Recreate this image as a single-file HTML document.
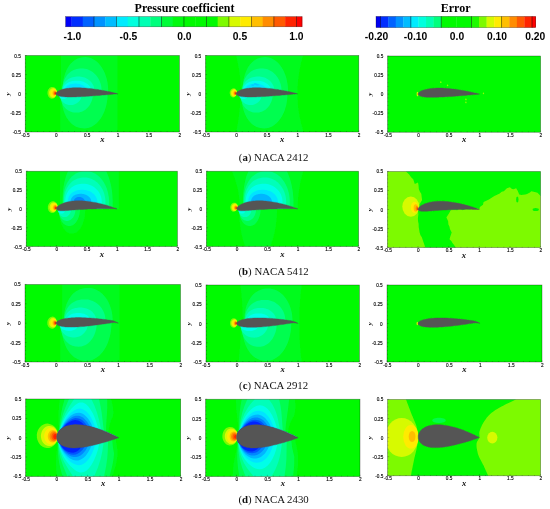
<!DOCTYPE html>
<html><head><meta charset="utf-8"><title>Pressure coefficient and error</title>
<style>html,body{margin:0;padding:0;background:#fff}svg{display:block}</style></head>
<body>
<svg width="550" height="509" viewBox="0 0 550 509">
<rect width="550" height="509" fill="#fff"/>
<rect x="65.60" y="16.6" width="6.20" height="10.2" fill="#0000f8"/>
<rect x="71.50" y="16.6" width="11.55" height="10.2" fill="#002eff"/>
<rect x="82.75" y="16.6" width="11.54" height="10.2" fill="#0062ff"/>
<rect x="93.99" y="16.6" width="11.55" height="10.2" fill="#0092ff"/>
<rect x="105.23" y="16.6" width="11.54" height="10.2" fill="#00bcff"/>
<rect x="116.48" y="16.6" width="11.55" height="10.2" fill="#00ebff"/>
<rect x="127.72" y="16.6" width="11.55" height="10.2" fill="#00ffde"/>
<rect x="138.97" y="16.6" width="11.54" height="10.2" fill="#00ffb4"/>
<rect x="150.21" y="16.6" width="11.55" height="10.2" fill="#00ff7d"/>
<rect x="161.46" y="16.6" width="11.55" height="10.2" fill="#00fc38"/>
<rect x="172.70" y="16.6" width="11.55" height="10.2" fill="#00fa0e"/>
<rect x="183.95" y="16.6" width="11.55" height="10.2" fill="#00fa00"/>
<rect x="195.19" y="16.6" width="11.55" height="10.2" fill="#00fa00"/>
<rect x="206.44" y="16.6" width="11.55" height="10.2" fill="#00fa00"/>
<rect x="217.69" y="16.6" width="11.54" height="10.2" fill="#7dfa00"/>
<rect x="228.93" y="16.6" width="11.55" height="10.2" fill="#d7fa00"/>
<rect x="240.17" y="16.6" width="11.55" height="10.2" fill="#ffeb00"/>
<rect x="251.42" y="16.6" width="11.54" height="10.2" fill="#ffbe00"/>
<rect x="262.66" y="16.6" width="11.55" height="10.2" fill="#ff8c00"/>
<rect x="273.91" y="16.6" width="11.55" height="10.2" fill="#ff5a00"/>
<rect x="285.15" y="16.6" width="11.55" height="10.2" fill="#ff2300"/>
<rect x="296.40" y="16.6" width="5.90" height="10.2" fill="#ff0000"/>
<rect x="93.69" y="16.6" width="0.6" height="10.2" fill="#000" fill-opacity="0.75"/>
<rect x="116.18" y="16.6" width="0.6" height="10.2" fill="#000" fill-opacity="0.75"/>
<rect x="138.67" y="16.6" width="0.6" height="10.2" fill="#000" fill-opacity="0.75"/>
<rect x="161.16" y="16.6" width="0.6" height="10.2" fill="#000" fill-opacity="0.75"/>
<rect x="183.65" y="16.6" width="0.6" height="10.2" fill="#000" fill-opacity="0.75"/>
<rect x="206.14" y="16.6" width="0.6" height="10.2" fill="#000" fill-opacity="0.75"/>
<rect x="228.63" y="16.6" width="0.6" height="10.2" fill="#000" fill-opacity="0.75"/>
<rect x="251.12" y="16.6" width="0.6" height="10.2" fill="#000" fill-opacity="0.75"/>
<rect x="273.61" y="16.6" width="0.6" height="10.2" fill="#000" fill-opacity="0.75"/>
<rect x="296.10" y="16.6" width="0.6" height="10.2" fill="#000" fill-opacity="0.75"/>
<rect x="65.6" y="16.6" width="236.4" height="10.2" fill="none" stroke="#000" stroke-opacity="0.55" stroke-width="0.5"/>
<rect x="376.00" y="16.4" width="4.90" height="11.200000000000003" fill="#0000f0"/>
<rect x="380.60" y="16.4" width="7.87" height="11.200000000000003" fill="#002eff"/>
<rect x="388.17" y="16.4" width="7.87" height="11.200000000000003" fill="#0062ff"/>
<rect x="395.74" y="16.4" width="7.87" height="11.200000000000003" fill="#0092ff"/>
<rect x="403.31" y="16.4" width="7.87" height="11.200000000000003" fill="#00bcff"/>
<rect x="410.88" y="16.4" width="7.87" height="11.200000000000003" fill="#00ebff"/>
<rect x="418.45" y="16.4" width="7.87" height="11.200000000000003" fill="#00ffde"/>
<rect x="426.02" y="16.4" width="7.87" height="11.200000000000003" fill="#00ffb4"/>
<rect x="433.59" y="16.4" width="7.87" height="11.200000000000003" fill="#00ff7d"/>
<rect x="441.16" y="16.4" width="7.87" height="11.200000000000003" fill="#00fa00"/>
<rect x="448.73" y="16.4" width="7.87" height="11.200000000000003" fill="#00fa00"/>
<rect x="456.30" y="16.4" width="7.87" height="11.200000000000003" fill="#00fa00"/>
<rect x="463.87" y="16.4" width="7.87" height="11.200000000000003" fill="#00fa00"/>
<rect x="471.44" y="16.4" width="7.87" height="11.200000000000003" fill="#1efa00"/>
<rect x="479.01" y="16.4" width="7.87" height="11.200000000000003" fill="#7dfa00"/>
<rect x="486.58" y="16.4" width="7.87" height="11.200000000000003" fill="#d7fa00"/>
<rect x="494.15" y="16.4" width="7.87" height="11.200000000000003" fill="#ffeb00"/>
<rect x="501.72" y="16.4" width="7.87" height="11.200000000000003" fill="#ffbe00"/>
<rect x="509.29" y="16.4" width="7.87" height="11.200000000000003" fill="#ff8c00"/>
<rect x="516.86" y="16.4" width="7.87" height="11.200000000000003" fill="#ff5a00"/>
<rect x="524.43" y="16.4" width="7.87" height="11.200000000000003" fill="#ff2300"/>
<rect x="532.00" y="16.4" width="3.90" height="11.200000000000003" fill="#ff0000"/>
<rect x="380.30" y="16.4" width="0.6" height="11.200000000000003" fill="#000" fill-opacity="0.75"/>
<rect x="410.58" y="16.4" width="0.6" height="11.200000000000003" fill="#000" fill-opacity="0.75"/>
<rect x="440.86" y="16.4" width="0.6" height="11.200000000000003" fill="#000" fill-opacity="0.75"/>
<rect x="471.14" y="16.4" width="0.6" height="11.200000000000003" fill="#000" fill-opacity="0.75"/>
<rect x="501.42" y="16.4" width="0.6" height="11.200000000000003" fill="#000" fill-opacity="0.75"/>
<rect x="531.70" y="16.4" width="0.6" height="11.200000000000003" fill="#000" fill-opacity="0.75"/>
<rect x="376.0" y="16.4" width="159.60000000000002" height="11.200000000000003" fill="none" stroke="#000" stroke-opacity="0.55" stroke-width="0.5"/>
<g font-family="'Liberation Serif',serif" font-weight="bold" font-size="12px" text-anchor="middle" fill="#000">
<text x="184.5" y="11.6">Pressure coefficient</text>
<text x="455.6" y="11.7">Error</text>
</g>
<g font-family="'Liberation Sans',sans-serif" font-weight="bold" font-size="10.3px" text-anchor="middle" fill="#000">
<text x="72.4" y="40.2">-1.0</text>
<text x="128.4" y="40.2">-0.5</text>
<text x="184.4" y="40.2">0.0</text>
<text x="240" y="40.2">0.5</text>
<text x="296.4" y="40.2">1.0</text>
<text x="376.6" y="40.2">-0.20</text>
<text x="415.6" y="40.2">-0.10</text>
<text x="457" y="40.2">0.0</text>
<text x="497" y="40.2">0.10</text>
<text x="535.2" y="40.2">0.20</text>
</g>
<defs><filter id="bl" x="-5%" y="-5%" width="110%" height="110%"><feGaussianBlur stdDeviation="0.45"/></filter><clipPath id="c00"><rect x="25.2" y="55.5" width="154.2" height="76.5"/></clipPath><clipPath id="c01"><rect x="205.5" y="55.5" width="153.3" height="76.5"/></clipPath><clipPath id="c02"><rect x="387.6" y="56.0" width="153.0" height="76.2"/></clipPath><clipPath id="c10"><rect x="26.2" y="171.2" width="151.2" height="75.4"/></clipPath><clipPath id="c11"><rect x="206.4" y="171.2" width="152.2" height="75.4"/></clipPath><clipPath id="c12"><rect x="387.4" y="171.4" width="153.2" height="76.2"/></clipPath><clipPath id="c20"><rect x="25.0" y="284.4" width="155.5" height="77.6"/></clipPath><clipPath id="c21"><rect x="206.0" y="285.0" width="153.4" height="77.0"/></clipPath><clipPath id="c22"><rect x="387.0" y="285.0" width="155.0" height="77.0"/></clipPath><clipPath id="c30"><rect x="25.6" y="399.0" width="155.1" height="77.4"/></clipPath><clipPath id="c31"><rect x="205.6" y="399.2" width="154.4" height="77.2"/></clipPath><clipPath id="c32"><rect x="387.6" y="399.4" width="153.0" height="76.4"/></clipPath></defs>
<g clip-path="url(#c00)" filter="url(#bl)">
<rect x="21.2" y="51.5" width="162.2" height="84.5" fill="#00fa00"/>
<path d="M60.8,93.8H117.4V47.9H60.8Z" fill="#00fb1a"/>
<path d="M62.5,93.8L62.5,91.1L62.6,87.7L62.8,84.8L63.1,82.0L63.5,79.4L64.1,76.9L64.8,74.5L65.6,72.2L66.5,70.1L67.6,68.1L68.7,66.3L69.9,64.6L71.3,63.1L72.7,61.7L74.2,60.5L75.8,59.5L77.5,58.6L79.3,58.0L81.1,57.5L83.1,57.2L85.4,57.1L87.2,57.2L88.9,57.5L90.7,58.0L92.4,58.8L94.1,59.7L95.7,60.8L97.3,62.1L98.8,63.6L100.2,65.2L101.5,67.1L102.7,69.0L103.9,71.1L104.9,73.3L105.7,75.7L106.5,78.1L107.1,80.6L107.6,83.1L107.9,85.8L108.2,88.4L108.2,91.1L108.2,93.8Z" fill="#00fe50"/>
<path d="M62.2,93.8L62.2,91.1L62.3,88.8L62.4,86.9L62.7,85.1L63.1,83.3L63.6,81.6L64.2,80.1L64.9,78.6L65.7,77.2L66.6,75.8L67.5,74.6L68.6,73.5L69.8,72.5L71.0,71.5L72.3,70.8L73.7,70.1L75.2,69.5L76.7,69.1L78.3,68.8L80.0,68.6L81.9,68.5L83.5,68.6L85.0,68.8L86.6,69.1L88.0,69.6L89.5,70.2L90.9,71.0L92.3,71.8L93.5,72.8L94.8,73.9L95.9,75.1L97.0,76.4L97.9,77.8L98.8,79.3L99.5,80.8L100.2,82.4L100.7,84.1L101.1,85.8L101.4,87.5L101.6,89.3L101.7,91.1L101.7,93.8Z" fill="#00ff87"/>
<path d="M62.2,93.8L62.2,91.1L62.3,89.6L62.4,88.4L62.6,87.2L62.9,86.1L63.3,85.0L63.8,84.0L64.4,83.0L65.0,82.1L65.8,81.3L66.6,80.5L67.5,79.7L68.4,79.1L69.4,78.5L70.5,78.0L71.6,77.5L72.8,77.2L74.1,76.9L75.4,76.7L76.8,76.6L78.4,76.5L79.7,76.6L80.9,76.7L82.2,76.9L83.4,77.2L84.6,77.6L85.7,78.1L86.9,78.7L87.9,79.3L88.9,80.0L89.8,80.8L90.7,81.6L91.5,82.5L92.2,83.5L92.8,84.5L93.4,85.5L93.8,86.6L94.1,87.7L94.4,88.8L94.5,89.9L94.6,91.1L94.6,93.8Z" fill="#00ffb9"/>
<path d="M62.8,93.8L62.8,91.1L62.9,90.0L63.0,89.1L63.2,88.3L63.5,87.5L63.8,86.7L64.2,86.0L64.7,85.3L65.3,84.7L66.0,84.0L66.7,83.5L67.4,83.0L68.3,82.5L69.1,82.1L70.1,81.7L71.1,81.4L72.1,81.1L73.2,80.9L74.4,80.8L75.6,80.7L77.0,80.7L78.1,80.7L79.2,80.8L80.3,81.0L81.4,81.2L82.4,81.5L83.5,81.8L84.4,82.2L85.3,82.7L86.2,83.2L87.0,83.7L87.8,84.3L88.5,85.0L89.1,85.6L89.7,86.3L90.1,87.1L90.5,87.9L90.8,88.6L91.0,89.4L91.2,90.3L91.2,91.1L91.2,93.8Z" fill="#00ffe8"/>
<path d="M64.7,93.8L64.7,91.1L64.7,90.3L64.8,89.7L65.0,89.1L65.2,88.5L65.4,87.9L65.8,87.4L66.2,86.9L66.6,86.4L67.1,86.0L67.7,85.6L68.3,85.2L68.9,84.9L69.6,84.6L70.4,84.3L71.1,84.1L72.0,83.9L72.8,83.8L73.7,83.7L74.7,83.6L75.8,83.6L76.6,83.6L77.5,83.7L78.4,83.8L79.2,83.9L80.0,84.1L80.8,84.4L81.6,84.7L82.3,85.0L83.0,85.4L83.6,85.8L84.2,86.2L84.8,86.7L85.2,87.2L85.7,87.7L86.0,88.2L86.3,88.8L86.6,89.3L86.7,89.9L86.8,90.5L86.9,91.1L86.9,93.8Z" fill="#00e4ff"/>
<path d="M60.2,139.7H117.4V93.8H60.2Z" fill="#00fb1a"/>
<path d="M61.3,93.8L61.3,93.8L61.3,97.2L61.5,100.2L61.9,103.0L62.3,105.7L62.9,108.2L63.6,110.7L64.4,113.0L65.3,115.1L66.4,117.2L67.6,119.0L68.8,120.8L70.2,122.3L71.6,123.7L73.2,125.0L74.8,126.0L76.5,126.9L78.3,127.5L80.2,128.0L82.2,128.3L84.5,128.4L86.3,128.3L88.1,128.0L89.9,127.4L91.6,126.7L93.3,125.8L95.0,124.6L96.6,123.3L98.1,121.8L99.5,120.1L100.9,118.3L102.1,116.3L103.2,114.1L104.2,111.9L105.1,109.5L105.9,107.0L106.5,104.5L107.0,101.8L107.4,99.2L107.6,96.5L107.7,93.8L107.7,93.8Z" fill="#00fe50"/>
<path d="M60.4,93.8L60.4,93.8L60.4,95.6L60.5,97.2L60.8,98.8L61.1,100.2L61.5,101.6L62.0,103.0L62.6,104.2L63.2,105.4L63.9,106.5L64.8,107.5L65.6,108.5L66.6,109.3L67.6,110.1L68.7,110.8L69.8,111.3L71.0,111.8L72.3,112.2L73.6,112.4L75.0,112.6L76.6,112.6L77.9,112.6L79.2,112.4L80.4,112.1L81.7,111.7L82.9,111.2L84.0,110.6L85.1,109.9L86.2,109.0L87.2,108.1L88.2,107.1L89.0,106.0L89.8,104.9L90.5,103.6L91.1,102.3L91.7,101.0L92.1,99.6L92.5,98.2L92.7,96.7L92.9,95.2L92.9,93.8L92.9,93.8Z" fill="#00ff87"/>
<path d="M59.7,93.8L59.7,93.8L59.8,94.9L59.9,95.8L60.0,96.7L60.2,97.6L60.5,98.4L60.8,99.2L61.2,100.0L61.7,100.7L62.2,101.3L62.7,102.0L63.4,102.5L64.0,103.0L64.7,103.5L65.4,103.9L66.2,104.2L67.0,104.5L67.9,104.7L68.8,104.9L69.8,105.0L70.9,105.0L71.7,105.0L72.6,104.9L73.5,104.7L74.3,104.4L75.1,104.1L75.9,103.8L76.7,103.3L77.4,102.8L78.1,102.3L78.7,101.7L79.3,101.1L79.9,100.4L80.4,99.6L80.8,98.9L81.2,98.1L81.5,97.2L81.7,96.4L81.9,95.5L82.0,94.6L82.0,93.8L82.0,93.8Z" fill="#00ffb9"/>
<path d="M58.5,93.8L58.5,93.8L58.5,94.3L58.6,94.7L58.6,95.2L58.7,95.6L58.8,96.0L59.0,96.3L59.2,96.7L59.4,97.0L59.6,97.3L59.8,97.6L60.1,97.9L60.4,98.1L60.7,98.3L61.0,98.5L61.4,98.7L61.7,98.8L62.1,98.9L62.5,99.0L63.0,99.0L63.4,99.0L63.8,99.0L64.2,99.0L64.6,98.9L65.0,98.8L65.3,98.6L65.7,98.5L66.0,98.3L66.3,98.0L66.6,97.8L66.9,97.5L67.2,97.2L67.4,96.9L67.6,96.5L67.8,96.1L68.0,95.8L68.1,95.4L68.2,95.0L68.3,94.6L68.4,94.2L68.4,93.8L68.4,93.8Z" fill="#00ffe8"/>
<path d="M51.4,98.7L53.3,98.5L54.2,98.1L55.1,97.2L56.0,95.5L56.2,93.0L56.8,91.8L56.7,90.2L55.7,88.5L54.5,87.4L53.0,86.9L51.1,87.1L49.5,88.0L48.3,89.5L47.5,91.8L47.5,94.1L48.4,96.4L49.8,98.0Z" fill="#7dfa00"/>
<path d="M52.3,97.7L53.3,97.7L54.2,97.4L55.4,96.4L56.0,95.2L56.1,93.0L56.7,91.8L56.4,90.3L55.7,89.2L54.8,88.4L53.6,88.0L52.0,88.2L50.5,89.2L49.5,90.7L49.1,92.2L49.2,94.1L49.8,95.7L50.8,96.9Z" fill="#d7fa00"/>
<path d="M53.3,96.9L54.5,96.7L55.1,96.3L55.7,95.6L56.0,94.9L56.1,93.0L56.7,92.2L56.3,90.7L55.7,89.8L54.8,89.2L53.9,88.9L52.6,89.2L51.6,89.9L50.8,91.1L50.4,92.6L50.6,94.1L51.1,95.4L52.1,96.4Z" fill="#ffeb00"/>
<path d="M54.2,95.6L55.1,95.5L55.7,95.0L56.0,94.5L56.1,93.0L56.5,92.2L56.0,91.2L55.4,90.7L54.8,90.5L53.9,90.6L53.3,91.0L52.7,91.8L52.5,92.6L52.5,93.8L52.8,94.5L53.4,95.3Z" fill="#ffbe00"/>
<path d="M54.8,95.1L55.4,95.0L56.0,94.3L56.1,93.0L56.4,92.6L56.0,91.7L55.1,91.2L54.5,91.3L53.9,91.8L53.4,93.0L53.4,93.8L53.8,94.5L54.2,94.9Z" fill="#ff8c00"/>
<path d="M55.1,94.7L55.7,94.5L56.0,94.2L56.2,92.6L56.0,92.2L55.4,91.8L54.5,92.2L54.1,93.0L54.3,94.1Z" fill="#ff5a00"/>
<path d="M55.4,94.3L56.0,94.0L56.1,92.6L55.7,92.3L55.1,92.5L54.8,93.0L54.8,93.8Z" fill="#ff2300"/>
<path d="M55.7,93.9L56.1,93.8L56.0,93.1L55.7,93.0L55.4,93.4Z" fill="#ff0000"/>
<polygon points="117.7,93.8 117.7,93.8 117.5,93.8 117.3,93.8 117.0,93.8 116.7,93.9 116.2,93.9 115.7,93.9 115.0,94.0 114.3,94.1 113.6,94.1 112.7,94.2 111.8,94.3 110.8,94.4 109.7,94.5 108.6,94.6 107.5,94.7 106.2,94.8 104.9,94.9 103.6,95.0 102.2,95.1 100.8,95.2 99.3,95.4 97.9,95.5 96.3,95.6 94.8,95.7 93.2,95.8 91.6,96.0 90.1,96.1 88.4,96.2 86.8,96.3 85.2,96.4 83.6,96.5 82.0,96.6 80.5,96.7 78.9,96.7 77.4,96.8 75.9,96.9 74.4,96.9 73.0,96.9 71.6,97.0 70.2,97.0 68.9,97.0 67.7,97.0 66.4,96.9 65.3,96.9 64.2,96.8 63.1,96.7 62.1,96.6 61.2,96.5 60.4,96.3 59.6,96.2 58.9,96.0 58.3,95.8 57.7,95.5 57.2,95.3 56.8,95.0 56.5,94.7 56.3,94.4 56.1,94.1 56.0,93.8 56.1,93.4 56.2,93.0 56.3,92.7 56.6,92.3 57.0,92.0 57.4,91.6 57.9,91.2 58.5,90.9 59.2,90.6 60.0,90.2 60.8,89.9 61.7,89.6 62.7,89.3 63.7,89.0 64.9,88.8 66.0,88.6 67.3,88.3 68.6,88.2 69.9,88.0 71.3,87.9 72.8,87.8 74.2,87.7 75.8,87.7 77.3,87.7 78.9,87.7 80.5,87.8 82.1,87.9 83.7,88.0 85.3,88.1 86.9,88.2 88.5,88.4 90.2,88.6 91.8,88.7 93.4,88.9 94.9,89.2 96.5,89.4 98.0,89.6 99.5,89.9 101.0,90.1 102.4,90.4 103.8,90.6 105.1,90.9 106.4,91.1 107.6,91.4 108.7,91.6 109.9,91.8 110.9,92.1 111.9,92.3 112.8,92.5 113.6,92.7 114.4,92.9 115.1,93.1 115.7,93.2 116.2,93.4 116.7,93.5 117.1,93.6 117.3,93.7 117.6,93.7 117.7,93.7 117.7,93.8" fill="#555" stroke="#555" stroke-width="0.4"/>
</g>
<rect x="25.2" y="55.5" width="154.2" height="76.5" fill="none" stroke="#000" stroke-opacity="0.5" stroke-width="0.6"/>
<path d="M25.2,132.0v-1.6M31.4,132.0v-0.8M37.5,132.0v-0.8M43.7,132.0v-0.8M49.9,132.0v-0.8M56.0,132.0v-1.6M62.2,132.0v-0.8M68.4,132.0v-0.8M74.5,132.0v-0.8M80.7,132.0v-0.8M86.9,132.0v-1.6M93.0,132.0v-0.8M99.2,132.0v-0.8M105.4,132.0v-0.8M111.6,132.0v-0.8M117.7,132.0v-1.6M123.9,132.0v-0.8M130.1,132.0v-0.8M136.2,132.0v-0.8M142.4,132.0v-0.8M148.6,132.0v-1.6M154.7,132.0v-0.8M160.9,132.0v-0.8M167.1,132.0v-0.8M173.2,132.0v-0.8M179.4,132.0v-1.6M25.2,55.5h1.6M25.2,59.3h0.8M25.2,63.1h0.8M25.2,67.0h0.8M25.2,70.8h0.8M25.2,74.6h1.6M25.2,78.5h0.8M25.2,82.3h0.8M25.2,86.1h0.8M25.2,89.9h0.8M25.2,93.8h1.6M25.2,97.6h0.8M25.2,101.4h0.8M25.2,105.2h0.8M25.2,109.1h0.8M25.2,112.9h1.6M25.2,116.7h0.8M25.2,120.5h0.8M25.2,124.4h0.8M25.2,128.2h0.8M25.2,132.0h1.6" stroke="#000" stroke-opacity="0.45" stroke-width="0.5" fill="none"/>
<g font-family="'Liberation Sans',sans-serif" font-size="4.7px" fill="#000" stroke="#000" stroke-width="0.12">
<text x="20.9" y="57.5" text-anchor="end">0.5</text>
<text x="20.9" y="76.6" text-anchor="end">0.25</text>
<text x="20.9" y="95.8" text-anchor="end">0</text>
<text x="20.9" y="114.9" text-anchor="end">-0.25</text>
<text x="20.9" y="134.0" text-anchor="end">-0.5</text>
<text x="25.5" y="136.6" text-anchor="middle">-0.5</text>
<text x="56.3" y="136.6" text-anchor="middle">0</text>
<text x="87.2" y="136.6" text-anchor="middle">0.5</text>
<text x="118.0" y="136.6" text-anchor="middle">1</text>
<text x="148.9" y="136.6" text-anchor="middle">1.5</text>
<text x="179.7" y="136.6" text-anchor="middle">2</text>
</g>
<g font-family="'Liberation Serif',serif" font-style="italic" font-weight="bold" font-size="6.5px" fill="#111" text-anchor="middle">
<text x="102.3" y="141.9" font-size="8.6px">x</text>
<text transform="translate(8.2,94.0) rotate(-90)" x="0" y="1.5" font-size="7px">y</text>
</g>
<g clip-path="url(#c01)" filter="url(#bl)">
<rect x="201.5" y="51.5" width="161.3" height="84.5" fill="#00fa00"/>
<path d="M240.9,93.8L240.8,89.6L240.7,85.4L240.4,81.2L240.0,77.1L239.5,72.9L238.9,68.7L238.1,64.5L237.3,60.4L236.3,56.2L235.3,52.0L234.1,47.9L305.4,47.9L304.0,52.0L302.8,56.2L301.7,60.4L300.7,64.5L299.8,68.7L299.1,72.9L298.5,77.1L298.1,81.2L297.7,85.4L297.5,89.6L297.5,93.8Z" fill="#00fb1a"/>
<path d="M242.6,93.8L242.6,91.1L242.7,87.7L242.9,84.8L243.2,82.0L243.6,79.4L244.2,76.9L244.9,74.5L245.7,72.2L246.6,70.1L247.6,68.1L248.7,66.3L250.0,64.6L251.3,63.1L252.7,61.7L254.2,60.5L255.8,59.5L257.5,58.6L259.3,58.0L261.1,57.5L263.1,57.2L265.3,57.1L267.1,57.2L268.9,57.5L270.6,58.0L272.3,58.8L274.0,59.7L275.6,60.8L277.2,62.1L278.7,63.6L280.1,65.2L281.4,67.1L282.6,69.0L283.7,71.1L284.7,73.3L285.6,75.7L286.3,78.1L286.9,80.6L287.4,83.1L287.8,85.8L288.0,88.4L288.0,91.1L288.0,93.8Z" fill="#00fe50"/>
<path d="M242.3,93.8L242.3,91.1L242.3,88.8L242.5,86.9L242.8,85.1L243.2,83.3L243.7,81.6L244.2,80.1L244.9,78.6L245.7,77.2L246.6,75.8L247.6,74.6L248.7,73.5L249.8,72.5L251.0,71.5L252.3,70.8L253.7,70.1L255.2,69.5L256.7,69.1L258.3,68.8L260.0,68.6L261.9,68.5L263.5,68.6L265.0,68.8L266.5,69.1L268.0,69.6L269.4,70.2L270.8,71.0L272.2,71.8L273.4,72.8L274.7,73.9L275.8,75.1L276.8,76.4L277.8,77.8L278.6,79.3L279.4,80.8L280.0,82.4L280.6,84.1L281.0,85.8L281.3,87.5L281.5,89.3L281.5,91.1L281.5,93.8Z" fill="#00ff87"/>
<path d="M242.3,93.8L242.3,91.1L242.3,89.6L242.5,88.4L242.7,87.2L243.0,86.1L243.4,85.0L243.9,84.0L244.5,83.0L245.1,82.1L245.8,81.3L246.6,80.5L247.5,79.7L248.5,79.1L249.5,78.5L250.5,78.0L251.7,77.5L252.9,77.2L254.1,76.9L255.4,76.7L256.8,76.6L258.4,76.5L259.7,76.6L260.9,76.7L262.1,76.9L263.4,77.2L264.5,77.6L265.7,78.1L266.8,78.7L267.8,79.3L268.8,80.0L269.8,80.8L270.6,81.6L271.4,82.5L272.1,83.5L272.7,84.5L273.3,85.5L273.7,86.6L274.0,87.7L274.3,88.8L274.4,89.9L274.5,91.1L274.5,93.8Z" fill="#00ffb9"/>
<path d="M242.9,93.8L242.9,91.1L242.9,90.0L243.1,89.1L243.3,88.3L243.5,87.5L243.9,86.7L244.3,86.0L244.8,85.3L245.4,84.7L246.0,84.0L246.7,83.5L247.5,83.0L248.3,82.5L249.2,82.1L250.1,81.7L251.1,81.4L252.2,81.1L253.3,80.9L254.4,80.8L255.6,80.7L257.0,80.7L258.1,80.7L259.2,80.8L260.3,81.0L261.4,81.2L262.4,81.5L263.4,81.8L264.4,82.2L265.3,82.7L266.2,83.2L267.0,83.7L267.7,84.3L268.4,85.0L269.0,85.6L269.6,86.3L270.0,87.1L270.4,87.9L270.7,88.6L270.9,89.4L271.1,90.3L271.1,91.1L271.1,93.8Z" fill="#00ffe8"/>
<path d="M244.7,93.8L244.7,91.1L244.8,90.3L244.9,89.7L245.0,89.1L245.2,88.5L245.5,87.9L245.8,87.4L246.2,86.9L246.7,86.4L247.2,86.0L247.7,85.6L248.3,85.2L249.0,84.9L249.7,84.6L250.4,84.3L251.2,84.1L252.0,83.9L252.8,83.8L253.7,83.7L254.7,83.6L255.8,83.6L256.6,83.6L257.5,83.7L258.4,83.8L259.2,83.9L260.0,84.1L260.8,84.4L261.5,84.7L262.3,85.0L263.0,85.4L263.6,85.8L264.2,86.2L264.7,86.7L265.2,87.2L265.6,87.7L266.0,88.2L266.3,88.8L266.5,89.3L266.7,89.9L266.8,90.5L266.8,91.1L266.8,93.8Z" fill="#00e4ff"/>
<path d="M240.3,93.8L240.3,97.9L240.1,102.1L239.9,106.3L239.5,110.4L239.1,114.6L238.5,118.8L237.9,123.0L237.2,127.1L236.3,131.3L235.4,135.5L234.3,139.7L306.3,139.7L304.8,135.5L303.4,131.3L302.2,127.1L301.1,123.0L300.1,118.8L299.3,114.6L298.6,110.4L298.1,106.3L297.8,102.1L297.6,97.9L297.5,93.8Z" fill="#00fb1a"/>
<path d="M241.4,93.8L241.4,93.8L241.4,97.2L241.6,100.2L242.0,103.0L242.4,105.7L243.0,108.2L243.7,110.7L244.5,113.0L245.4,115.1L246.5,117.2L247.6,119.0L248.9,120.8L250.2,122.3L251.6,123.7L253.2,125.0L254.8,126.0L256.5,126.9L258.3,127.5L260.2,128.0L262.1,128.3L264.4,128.4L266.2,128.3L268.0,128.0L269.8,127.4L271.6,126.7L273.3,125.8L274.9,124.6L276.5,123.3L278.0,121.8L279.4,120.1L280.7,118.3L282.0,116.3L283.1,114.1L284.1,111.9L285.0,109.5L285.7,107.0L286.4,104.5L286.8,101.8L287.2,99.2L287.4,96.5L287.5,93.8L287.5,93.8Z" fill="#00fe50"/>
<path d="M240.5,93.8L240.5,93.8L240.5,95.6L240.6,97.2L240.9,98.8L241.2,100.2L241.6,101.6L242.1,103.0L242.6,104.2L243.3,105.4L244.0,106.5L244.8,107.5L245.7,108.5L246.7,109.3L247.7,110.1L248.7,110.8L249.9,111.3L251.1,111.8L252.3,112.2L253.6,112.4L255.0,112.6L256.6,112.6L257.9,112.6L259.2,112.4L260.4,112.1L261.6,111.7L262.8,111.2L264.0,110.6L265.1,109.9L266.2,109.0L267.2,108.1L268.1,107.1L269.0,106.0L269.7,104.9L270.4,103.6L271.1,102.3L271.6,101.0L272.0,99.6L272.4,98.2L272.6,96.7L272.8,95.2L272.8,93.8L272.8,93.8Z" fill="#00ff87"/>
<path d="M239.8,93.8L239.8,93.8L239.9,94.9L240.0,95.8L240.1,96.7L240.3,97.6L240.6,98.4L240.9,99.2L241.3,100.0L241.8,100.7L242.3,101.3L242.8,102.0L243.4,102.5L244.1,103.0L244.8,103.5L245.5,103.9L246.3,104.2L247.1,104.5L248.0,104.7L248.9,104.9L249.8,105.0L250.9,105.0L251.8,105.0L252.6,104.9L253.5,104.7L254.3,104.4L255.1,104.1L255.9,103.8L256.7,103.3L257.4,102.8L258.1,102.3L258.7,101.7L259.3,101.1L259.9,100.4L260.3,99.6L260.8,98.9L261.1,98.1L261.4,97.2L261.7,96.4L261.8,95.5L261.9,94.6L262.0,93.8L262.0,93.8Z" fill="#00ffb9"/>
<path d="M238.6,93.8L238.6,93.8L238.6,94.3L238.7,94.7L238.7,95.2L238.8,95.6L239.0,96.0L239.1,96.3L239.3,96.7L239.5,97.0L239.7,97.3L239.9,97.6L240.2,97.9L240.5,98.1L240.8,98.3L241.1,98.5L241.5,98.7L241.8,98.8L242.2,98.9L242.6,99.0L243.0,99.0L243.5,99.0L243.9,99.0L244.3,99.0L244.7,98.9L245.0,98.8L245.4,98.6L245.7,98.5L246.1,98.3L246.4,98.0L246.7,97.8L247.0,97.5L247.2,97.2L247.5,96.9L247.7,96.5L247.9,96.1L248.1,95.8L248.2,95.4L248.3,95.0L248.4,94.6L248.4,94.2L248.4,93.8L248.4,93.8Z" fill="#00ffe8"/>
<ellipse cx="252.7" cy="85.1" rx="1.5" ry="0.9" fill="#00c8ff" fill-opacity="0.8"/>
<ellipse cx="257.3" cy="84.7" rx="1.5" ry="0.9" fill="#00c8ff" fill-opacity="0.8"/>
<ellipse cx="255.2" cy="84.0" rx="1.5" ry="0.9" fill="#00c8ff" fill-opacity="0.8"/>
<path d="M232.8,97.4L234.3,97.2L235.5,96.3L236.2,95.1L236.3,93.0L236.8,92.2L236.8,91.8L236.5,90.3L235.9,89.4L234.9,88.6L233.7,88.3L232.5,88.4L231.2,89.2L230.1,90.7L229.7,92.2L229.8,94.1L230.4,95.7L231.4,96.8Z" fill="#7dfa00"/>
<path d="M233.4,96.8L234.6,96.6L235.2,96.2L235.9,95.5L236.2,94.9L236.3,93.0L236.8,92.2L236.6,91.1L236.2,90.3L235.2,89.4L234.3,89.1L233.1,89.2L232.0,89.9L231.2,91.1L230.8,92.6L230.9,94.1L231.4,95.3L232.2,96.2Z" fill="#d7fa00"/>
<path d="M234.0,96.2L234.9,96.0L235.9,95.3L236.2,94.7L236.2,93.0L236.7,92.2L236.2,90.7L235.5,90.1L234.6,89.8L233.7,89.9L232.8,90.4L232.1,91.5L231.7,92.6L231.8,93.8L232.2,94.9L233.1,95.9Z" fill="#ffeb00"/>
<path d="M234.6,95.2L235.2,95.2L235.9,94.8L236.2,94.4L236.2,93.0L236.5,92.6L236.2,91.6L235.2,91.0L234.6,91.0L234.0,91.4L233.3,92.6L233.4,94.1L234.0,94.9Z" fill="#ffbe00"/>
<path d="M234.9,94.8L235.5,94.8L236.2,94.2L236.2,93.0L236.4,92.6L236.2,92.0L235.5,91.6L234.6,91.8L234.3,92.2L234.0,93.0L234.2,94.1Z" fill="#ff8c00"/>
<path d="M235.2,94.4L235.9,94.4L236.2,93.8L236.3,92.6L235.9,92.1L235.5,92.1L234.9,92.4L234.6,93.0L234.7,93.8Z" fill="#ff5a00"/>
<path d="M235.5,94.1L236.2,94.0L236.2,92.7L235.9,92.5L235.2,92.9L235.1,93.4L235.2,93.8Z" fill="#ff2300"/>
<polygon points="297.5,93.8 297.4,93.8 297.3,93.8 297.1,93.8 296.8,93.8 296.4,93.9 296.0,93.9 295.4,93.9 294.8,94.0 294.1,94.1 293.3,94.1 292.5,94.2 291.6,94.3 290.6,94.4 289.5,94.5 288.4,94.6 287.3,94.7 286.0,94.8 284.8,94.9 283.4,95.0 282.1,95.1 280.7,95.2 279.2,95.4 277.7,95.5 276.2,95.6 274.7,95.7 273.1,95.8 271.6,96.0 270.0,96.1 268.4,96.2 266.8,96.3 265.2,96.4 263.6,96.5 262.0,96.6 260.4,96.7 258.9,96.7 257.4,96.8 255.9,96.9 254.4,96.9 253.0,96.9 251.6,97.0 250.3,97.0 249.0,97.0 247.7,97.0 246.5,96.9 245.3,96.9 244.2,96.8 243.2,96.7 242.2,96.6 241.3,96.5 240.5,96.3 239.7,96.2 239.0,96.0 238.4,95.8 237.8,95.5 237.3,95.3 236.9,95.0 236.6,94.7 236.4,94.4 236.2,94.1 236.2,93.8 236.2,93.4 236.3,93.0 236.5,92.7 236.7,92.3 237.1,92.0 237.5,91.6 238.0,91.2 238.6,90.9 239.3,90.6 240.1,90.2 240.9,89.9 241.8,89.6 242.8,89.3 243.8,89.0 244.9,88.8 246.1,88.6 247.3,88.3 248.6,88.2 250.0,88.0 251.4,87.9 252.8,87.8 254.3,87.7 255.8,87.7 257.3,87.7 258.9,87.7 260.4,87.8 262.0,87.9 263.6,88.0 265.2,88.1 266.9,88.2 268.5,88.4 270.1,88.6 271.7,88.7 273.3,88.9 274.8,89.2 276.4,89.4 277.9,89.6 279.4,89.9 280.8,90.1 282.2,90.4 283.6,90.6 284.9,90.9 286.2,91.1 287.4,91.4 288.6,91.6 289.7,91.8 290.7,92.1 291.7,92.3 292.6,92.5 293.4,92.7 294.2,92.9 294.9,93.1 295.5,93.2 296.0,93.4 296.4,93.5 296.8,93.6 297.1,93.7 297.3,93.7 297.4,93.7 297.5,93.8" fill="#555" stroke="#555" stroke-width="0.4"/>
</g>
<rect x="205.5" y="55.5" width="153.3" height="76.5" fill="none" stroke="#000" stroke-opacity="0.5" stroke-width="0.6"/>
<path d="M205.5,132.0v-1.6M211.6,132.0v-0.8M217.8,132.0v-0.8M223.9,132.0v-0.8M230.0,132.0v-0.8M236.2,132.0v-1.6M242.3,132.0v-0.8M248.4,132.0v-0.8M254.6,132.0v-0.8M260.7,132.0v-0.8M266.8,132.0v-1.6M273.0,132.0v-0.8M279.1,132.0v-0.8M285.2,132.0v-0.8M291.3,132.0v-0.8M297.5,132.0v-1.6M303.6,132.0v-0.8M309.7,132.0v-0.8M315.9,132.0v-0.8M322.0,132.0v-0.8M328.1,132.0v-1.6M334.3,132.0v-0.8M340.4,132.0v-0.8M346.5,132.0v-0.8M352.7,132.0v-0.8M358.8,132.0v-1.6M205.5,55.5h1.6M205.5,59.3h0.8M205.5,63.1h0.8M205.5,67.0h0.8M205.5,70.8h0.8M205.5,74.6h1.6M205.5,78.5h0.8M205.5,82.3h0.8M205.5,86.1h0.8M205.5,89.9h0.8M205.5,93.8h1.6M205.5,97.6h0.8M205.5,101.4h0.8M205.5,105.2h0.8M205.5,109.1h0.8M205.5,112.9h1.6M205.5,116.7h0.8M205.5,120.5h0.8M205.5,124.4h0.8M205.5,128.2h0.8M205.5,132.0h1.6" stroke="#000" stroke-opacity="0.45" stroke-width="0.5" fill="none"/>
<g font-family="'Liberation Sans',sans-serif" font-size="4.7px" fill="#000" stroke="#000" stroke-width="0.12">
<text x="201.2" y="57.5" text-anchor="end">0.5</text>
<text x="201.2" y="76.6" text-anchor="end">0.25</text>
<text x="201.2" y="95.8" text-anchor="end">0</text>
<text x="201.2" y="114.9" text-anchor="end">-0.25</text>
<text x="201.2" y="134.0" text-anchor="end">-0.5</text>
<text x="205.8" y="136.6" text-anchor="middle">-0.5</text>
<text x="236.5" y="136.6" text-anchor="middle">0</text>
<text x="267.1" y="136.6" text-anchor="middle">0.5</text>
<text x="297.8" y="136.6" text-anchor="middle">1</text>
<text x="328.4" y="136.6" text-anchor="middle">1.5</text>
<text x="359.1" y="136.6" text-anchor="middle">2</text>
</g>
<g font-family="'Liberation Serif',serif" font-style="italic" font-weight="bold" font-size="6.5px" fill="#111" text-anchor="middle">
<text x="282.1" y="141.9" font-size="8.6px">x</text>
<text transform="translate(188.5,94.0) rotate(-90)" x="0" y="1.5" font-size="7px">y</text>
</g>
<g clip-path="url(#c02)" filter="url(#bl)">
<rect x="383.6" y="52.0" width="161.0" height="84.2" fill="#00fa00"/>
<ellipse cx="417.5" cy="94.1" rx="0.9" ry="2.3" fill="#d7fa00"/>
<ellipse cx="417.7" cy="94.1" rx="0.5" ry="1.1" fill="#ffbe00"/>
<ellipse cx="440.8" cy="82.2" rx="0.7" ry="0.9" fill="#96fa00"/>
<ellipse cx="447.6" cy="85.3" rx="0.7" ry="0.9" fill="#96fa00"/>
<ellipse cx="483.5" cy="93.3" rx="0.7" ry="0.9" fill="#96fa00"/>
<ellipse cx="465.9" cy="99.4" rx="0.7" ry="0.9" fill="#96fa00"/>
<ellipse cx="465.9" cy="102.3" rx="0.7" ry="0.9" fill="#96fa00"/>
<polygon points="479.4,94.1 479.4,94.1 479.2,94.1 479.0,94.1 478.7,94.2 478.3,94.2 477.9,94.2 477.3,94.3 476.7,94.4 476.0,94.4 475.3,94.5 474.4,94.6 473.5,94.6 472.5,94.7 471.5,94.8 470.4,94.9 469.2,95.0 468.0,95.1 466.7,95.2 465.4,95.4 464.0,95.5 462.6,95.6 461.2,95.7 459.7,95.8 458.2,95.9 456.7,96.1 455.1,96.2 453.5,96.3 451.9,96.4 450.4,96.5 448.8,96.6 447.2,96.7 445.6,96.8 444.0,96.9 442.4,97.0 440.9,97.1 439.4,97.1 437.9,97.2 436.4,97.2 435.0,97.3 433.6,97.3 432.3,97.3 431.0,97.3 429.7,97.3 428.5,97.3 427.4,97.2 426.3,97.2 425.2,97.1 424.3,97.0 423.3,96.8 422.5,96.7 421.7,96.5 421.0,96.3 420.4,96.1 419.8,95.9 419.4,95.6 419.0,95.4 418.7,95.1 418.4,94.8 418.3,94.4 418.2,94.1 418.2,93.7 418.3,93.4 418.5,93.0 418.8,92.7 419.1,92.3 419.5,92.0 420.1,91.6 420.7,91.3 421.3,90.9 422.1,90.6 422.9,90.3 423.8,90.0 424.8,89.7 425.8,89.4 427.0,89.2 428.1,88.9 429.4,88.7 430.6,88.5 432.0,88.4 433.4,88.3 434.8,88.2 436.3,88.1 437.8,88.1 439.3,88.1 440.9,88.1 442.4,88.1 444.0,88.2 445.6,88.3 447.2,88.5 448.8,88.6 450.4,88.7 452.0,88.9 453.6,89.1 455.2,89.3 456.8,89.5 458.3,89.8 459.8,90.0 461.3,90.2 462.8,90.5 464.2,90.7 465.5,91.0 466.9,91.2 468.1,91.5 469.3,91.7 470.5,92.0 471.6,92.2 472.6,92.4 473.6,92.7 474.5,92.9 475.3,93.1 476.1,93.3 476.8,93.4 477.4,93.6 477.9,93.7 478.4,93.8 478.7,93.9 479.0,94.0 479.2,94.1 479.4,94.1 479.4,94.1" fill="#555" stroke="#555" stroke-width="0.4"/>
</g>
<rect x="387.6" y="56.0" width="153.0" height="76.2" fill="none" stroke="#000" stroke-opacity="0.5" stroke-width="0.6"/>
<path d="M387.6,132.2v-1.6M393.7,132.2v-0.8M399.8,132.2v-0.8M406.0,132.2v-0.8M412.1,132.2v-0.8M418.2,132.2v-1.6M424.3,132.2v-0.8M430.4,132.2v-0.8M436.6,132.2v-0.8M442.7,132.2v-0.8M448.8,132.2v-1.6M454.9,132.2v-0.8M461.0,132.2v-0.8M467.2,132.2v-0.8M473.3,132.2v-0.8M479.4,132.2v-1.6M485.5,132.2v-0.8M491.6,132.2v-0.8M497.8,132.2v-0.8M503.9,132.2v-0.8M510.0,132.2v-1.6M516.1,132.2v-0.8M522.2,132.2v-0.8M528.4,132.2v-0.8M534.5,132.2v-0.8M540.6,132.2v-1.6M387.6,56.0h1.6M387.6,59.8h0.8M387.6,63.6h0.8M387.6,67.4h0.8M387.6,71.2h0.8M387.6,75.0h1.6M387.6,78.9h0.8M387.6,82.7h0.8M387.6,86.5h0.8M387.6,90.3h0.8M387.6,94.1h1.6M387.6,97.9h0.8M387.6,101.7h0.8M387.6,105.5h0.8M387.6,109.3h0.8M387.6,113.1h1.6M387.6,117.0h0.8M387.6,120.8h0.8M387.6,124.6h0.8M387.6,128.4h0.8M387.6,132.2h1.6" stroke="#000" stroke-opacity="0.45" stroke-width="0.5" fill="none"/>
<g font-family="'Liberation Sans',sans-serif" font-size="4.7px" fill="#000" stroke="#000" stroke-width="0.12">
<text x="383.3" y="58.0" text-anchor="end">0.5</text>
<text x="383.3" y="77.0" text-anchor="end">0.25</text>
<text x="383.3" y="96.1" text-anchor="end">0</text>
<text x="383.3" y="115.1" text-anchor="end">-0.25</text>
<text x="383.3" y="134.2" text-anchor="end">-0.5</text>
<text x="387.9" y="136.8" text-anchor="middle">-0.5</text>
<text x="418.5" y="136.8" text-anchor="middle">0</text>
<text x="449.1" y="136.8" text-anchor="middle">0.5</text>
<text x="479.7" y="136.8" text-anchor="middle">1</text>
<text x="510.3" y="136.8" text-anchor="middle">1.5</text>
<text x="540.9" y="136.8" text-anchor="middle">2</text>
</g>
<g font-family="'Liberation Serif',serif" font-style="italic" font-weight="bold" font-size="6.5px" fill="#111" text-anchor="middle">
<text x="464.1" y="142.1" font-size="8.6px">x</text>
<text transform="translate(370.6,94.3) rotate(-90)" x="0" y="1.5" font-size="7px">y</text>
</g>
<g clip-path="url(#c10)" filter="url(#bl)">
<rect x="22.2" y="167.2" width="159.2" height="83.4" fill="#00fa00"/>
<path d="M59.9,208.9H118.7V163.7H59.9Z" fill="#00fb1a"/>
<path d="M62.5,208.9L62.5,202.1L62.6,197.6L62.8,193.6L63.1,189.9L63.6,186.3L64.2,182.9L65.0,179.7L65.9,176.6L66.9,173.7L68.0,171.0L69.3,168.6L70.6,166.3L72.1,164.2L73.7,162.3L75.3,160.7L77.1,159.3L79.0,158.2L80.9,157.3L82.9,156.6L85.1,156.2L87.6,156.1L89.6,156.3L91.5,156.7L93.4,157.4L95.3,158.4L97.2,159.6L99.0,161.1L100.7,162.9L102.3,164.9L103.9,167.1L105.3,169.6L106.7,172.2L107.9,175.1L109.0,178.1L110.0,181.2L110.8,184.5L111.5,187.9L112.0,191.4L112.4,194.9L112.6,198.5L112.7,202.1L112.7,208.9Z" fill="#00fe50"/>
<path d="M63.1,208.9L63.1,202.1L63.2,199.1L63.4,196.4L63.7,193.9L64.1,191.5L64.7,189.2L65.4,187.0L66.2,185.0L67.1,183.0L68.2,181.2L69.3,179.6L70.6,178.0L71.9,176.6L73.3,175.4L74.9,174.3L76.5,173.3L78.2,172.6L80.0,172.0L81.8,171.5L83.8,171.3L86.1,171.2L87.9,171.3L89.7,171.6L91.4,172.1L93.2,172.7L94.9,173.6L96.5,174.6L98.1,175.8L99.6,177.1L101.0,178.6L102.3,180.3L103.6,182.0L104.7,183.9L105.7,186.0L106.6,188.1L107.3,190.3L107.9,192.6L108.4,194.9L108.8,197.3L109.0,199.7L109.1,202.1L109.1,208.9Z" fill="#00ff87"/>
<path d="M64.0,208.9L64.0,202.1L64.1,199.7L64.2,197.6L64.5,195.6L64.9,193.7L65.4,191.8L66.1,190.1L66.8,188.5L67.6,187.0L68.6,185.5L69.6,184.2L70.7,183.0L71.9,181.8L73.2,180.8L74.6,180.0L76.1,179.2L77.6,178.6L79.2,178.2L80.9,177.8L82.7,177.6L84.7,177.5L86.3,177.6L88.0,177.8L89.6,178.2L91.1,178.7L92.6,179.4L94.1,180.2L95.5,181.2L96.9,182.2L98.2,183.4L99.4,184.7L100.5,186.2L101.5,187.7L102.4,189.3L103.2,191.0L103.9,192.7L104.4,194.5L104.9,196.4L105.2,198.3L105.4,200.2L105.4,202.1L105.4,208.9Z" fill="#00ffb9"/>
<path d="M65.2,208.9L65.2,202.1L65.3,200.3L65.4,198.7L65.7,197.2L66.0,195.8L66.5,194.5L67.0,193.2L67.7,192.0L68.4,190.8L69.2,189.7L70.2,188.7L71.1,187.8L72.2,187.0L73.4,186.3L74.6,185.6L75.9,185.1L77.2,184.6L78.6,184.3L80.1,184.0L81.7,183.8L83.5,183.8L84.9,183.8L86.4,184.0L87.8,184.3L89.2,184.7L90.5,185.2L91.8,185.8L93.1,186.5L94.3,187.3L95.4,188.2L96.4,189.2L97.4,190.2L98.3,191.3L99.1,192.5L99.8,193.8L100.4,195.1L100.9,196.5L101.3,197.8L101.6,199.2L101.7,200.7L101.8,202.1L101.8,208.9Z" fill="#00ffe8"/>
<path d="M67.7,208.9L67.7,202.1L67.7,200.9L67.9,199.8L68.1,198.8L68.4,197.9L68.7,197.0L69.2,196.1L69.7,195.3L70.3,194.5L71.0,193.8L71.7,193.1L72.5,192.5L73.4,191.9L74.3,191.4L75.3,191.0L76.3,190.6L77.4,190.3L78.6,190.1L79.8,189.9L81.0,189.8L82.5,189.7L83.7,189.8L84.8,189.9L86.0,190.1L87.1,190.4L88.2,190.7L89.2,191.1L90.2,191.6L91.2,192.1L92.1,192.7L93.0,193.4L93.8,194.1L94.5,194.8L95.1,195.7L95.7,196.5L96.2,197.4L96.6,198.3L96.9,199.2L97.1,200.2L97.3,201.1L97.3,202.1L97.3,208.9Z" fill="#00e4ff"/>
<path d="M70.5,208.9L70.5,202.1L70.5,201.3L70.6,200.6L70.7,199.9L70.9,199.3L71.2,198.7L71.5,198.1L71.9,197.5L72.3,197.0L72.8,196.5L73.3,196.1L73.9,195.6L74.5,195.3L75.1,194.9L75.8,194.6L76.6,194.4L77.3,194.2L78.1,194.0L79.0,193.9L79.9,193.8L80.9,193.8L81.8,193.8L82.6,193.9L83.4,194.0L84.2,194.2L84.9,194.5L85.7,194.7L86.4,195.0L87.1,195.4L87.7,195.8L88.3,196.2L88.9,196.7L89.4,197.2L89.9,197.8L90.3,198.3L90.6,198.9L90.9,199.6L91.1,200.2L91.3,200.8L91.4,201.5L91.4,202.1L91.4,208.9Z" fill="#00b6ff"/>
<path d="M73.6,208.9L73.6,202.1L73.6,201.6L73.7,201.2L73.8,200.7L73.9,200.4L74.0,200.0L74.2,199.6L74.4,199.3L74.6,199.0L74.9,198.7L75.2,198.4L75.5,198.1L75.8,197.9L76.2,197.7L76.5,197.5L76.9,197.3L77.3,197.2L77.8,197.1L78.2,197.0L78.7,197.0L79.3,197.0L79.7,197.0L80.2,197.0L80.6,197.1L81.1,197.2L81.5,197.4L81.9,197.5L82.3,197.7L82.6,198.0L83.0,198.2L83.3,198.5L83.6,198.8L83.9,199.1L84.1,199.4L84.4,199.8L84.6,200.2L84.7,200.5L84.8,200.9L84.9,201.3L85.0,201.7L85.0,202.1L85.0,208.9Z" fill="#0087ff"/>
<path d="M59.2,208.9L59.2,208.9L59.2,211.3L59.3,213.5L59.5,215.5L59.7,217.4L60.1,219.2L60.5,221.0L60.9,222.6L61.5,224.2L62.0,225.6L62.7,226.9L63.4,228.2L64.2,229.3L65.0,230.3L65.9,231.2L66.8,231.9L67.8,232.5L68.8,233.0L69.8,233.4L71.0,233.6L72.3,233.6L73.3,233.6L74.3,233.3L75.3,232.9L76.3,232.4L77.3,231.7L78.2,230.9L79.1,230.0L80.0,228.9L80.8,227.7L81.5,226.4L82.2,225.0L82.8,223.4L83.4,221.8L83.9,220.1L84.4,218.4L84.7,216.5L85.0,214.7L85.2,212.8L85.3,210.8L85.3,208.9L85.3,208.9Z" fill="#00fb1a"/>
<path d="M58.9,208.9L58.9,208.9L58.9,210.6L59.0,212.1L59.1,213.5L59.3,214.8L59.6,216.0L59.9,217.2L60.3,218.4L60.7,219.5L61.2,220.5L61.7,221.4L62.3,222.2L62.9,223.0L63.6,223.7L64.3,224.3L65.0,224.8L65.8,225.3L66.6,225.6L67.5,225.8L68.4,226.0L69.4,226.0L70.3,226.0L71.1,225.8L71.9,225.5L72.7,225.2L73.5,224.7L74.2,224.2L75.0,223.5L75.7,222.7L76.3,221.9L76.9,221.0L77.5,220.0L78.0,219.0L78.5,217.8L78.9,216.7L79.2,215.4L79.5,214.2L79.7,212.9L79.9,211.6L80.0,210.2L80.0,208.9L80.0,208.9Z" fill="#00fe50"/>
<path d="M58.6,208.9L58.6,208.9L58.6,210.1L58.7,211.1L58.8,212.1L58.9,213.0L59.1,213.9L59.4,214.7L59.7,215.5L60.0,216.3L60.4,217.0L60.9,217.6L61.3,218.2L61.8,218.8L62.3,219.3L62.9,219.7L63.5,220.1L64.1,220.4L64.8,220.6L65.5,220.8L66.2,220.9L67.1,220.9L67.7,220.9L68.4,220.7L69.0,220.6L69.7,220.3L70.3,220.0L70.9,219.6L71.5,219.1L72.0,218.6L72.6,218.0L73.1,217.4L73.5,216.7L73.9,215.9L74.3,215.2L74.6,214.3L74.9,213.5L75.1,212.6L75.3,211.7L75.4,210.8L75.5,209.8L75.6,208.9L75.6,208.9Z" fill="#00ff87"/>
<path d="M58.3,208.9L58.3,208.9L58.3,209.7L58.3,210.4L58.4,211.1L58.5,211.7L58.7,212.3L58.9,212.9L59.1,213.5L59.4,214.0L59.7,214.5L60.0,214.9L60.3,215.3L60.7,215.7L61.1,216.0L61.5,216.3L62.0,216.5L62.5,216.8L63.0,216.9L63.5,217.0L64.0,217.1L64.7,217.1L65.2,217.1L65.7,217.0L66.2,216.9L66.6,216.7L67.1,216.5L67.6,216.2L68.0,215.9L68.4,215.5L68.8,215.1L69.2,214.7L69.5,214.2L69.9,213.7L70.1,213.2L70.4,212.6L70.6,212.0L70.8,211.4L70.9,210.8L71.0,210.2L71.1,209.5L71.1,208.9L71.1,208.9Z" fill="#00ffb9"/>
<path d="M57.6,208.9L57.6,208.9L57.7,209.4L57.7,209.8L57.7,210.2L57.8,210.5L57.9,210.9L58.0,211.2L58.2,211.5L58.3,211.8L58.5,212.1L58.7,212.4L58.9,212.6L59.2,212.8L59.4,213.0L59.7,213.2L59.9,213.3L60.2,213.4L60.5,213.5L60.9,213.6L61.2,213.6L61.6,213.7L61.9,213.6L62.2,213.6L62.5,213.5L62.8,213.4L63.1,213.3L63.4,213.1L63.6,213.0L63.9,212.7L64.1,212.5L64.4,212.3L64.6,212.0L64.8,211.7L64.9,211.4L65.1,211.1L65.2,210.7L65.3,210.4L65.4,210.0L65.5,209.6L65.5,209.3L65.5,208.9L65.5,208.9Z" fill="#00ffe8"/>
<path d="M51.6,213.1L53.4,212.9L54.3,212.5L55.2,211.7L55.8,210.8L56.5,208.9L56.2,208.5L56.5,208.1L56.5,207.8L57.6,206.3L57.3,204.4L56.4,202.9L55.2,201.9L53.7,201.3L52.5,201.3L51.6,201.5L49.9,202.5L48.7,204.0L47.9,206.3L47.9,208.5L48.6,210.8L49.9,212.3Z" fill="#7dfa00"/>
<path d="M52.5,212.0L54.0,211.9L54.9,211.5L55.5,210.9L56.5,208.9L56.2,208.5L56.5,208.1L56.5,207.8L57.5,206.3L57.2,204.8L56.4,203.6L55.5,202.9L54.3,202.4L52.8,202.5L51.3,203.2L50.3,204.4L49.6,206.3L49.5,208.1L50.1,210.0L51.0,211.2Z" fill="#d7fa00"/>
<path d="M53.4,211.3L54.6,211.1L55.8,210.2L56.5,208.9L56.2,208.5L56.5,208.1L56.5,207.8L57.3,206.6L57.2,205.5L56.4,204.3L55.5,203.6L54.6,203.3L53.4,203.4L52.2,204.1L51.4,205.1L50.9,206.6L50.9,208.1L51.3,209.7L52.3,210.8Z" fill="#ffeb00"/>
<path d="M54.6,210.2L55.5,210.0L56.4,209.2L56.5,208.9L56.2,208.5L57.1,207.0L57.0,206.3L56.4,205.4L55.2,204.8L54.3,205.0L53.6,205.5L53.1,206.3L52.8,207.4L52.9,208.5L53.3,209.3L54.0,210.0Z" fill="#ffbe00"/>
<path d="M54.9,209.7L55.5,209.6L56.4,209.1L56.5,208.9L56.2,208.5L57.0,207.0L56.4,206.0L55.8,205.7L55.2,205.6L54.6,205.9L53.8,207.0L53.8,208.5L54.3,209.3Z" fill="#ff8c00"/>
<path d="M55.5,209.3L56.4,209.1L56.2,208.5L56.8,207.4L56.4,206.6L55.8,206.3L54.9,206.7L54.5,207.8L54.8,208.9Z" fill="#ff5a00"/>
<path d="M56.4,209.0L56.2,208.5L56.5,208.1L56.6,207.4L56.4,207.1L55.8,206.9L55.2,207.4L55.0,208.1L55.4,208.9Z" fill="#ff2300"/>
<path d="M55.8,208.6L56.1,208.7L56.5,208.1L56.4,207.6L56.1,207.5L55.7,207.8L55.6,208.1Z" fill="#ff0000"/>
<polygon points="116.9,208.9 116.9,208.9 116.8,208.9 116.5,208.9 116.2,208.9 115.9,208.9 115.4,208.9 114.9,208.8 114.2,208.8 113.6,208.8 112.8,208.8 111.9,208.8 111.0,208.8 110.1,208.8 109.0,208.7 107.9,208.7 106.8,208.7 105.5,208.7 104.3,208.7 103.0,208.7 101.6,208.8 100.2,208.8 98.8,208.8 97.3,208.8 95.9,208.9 94.3,208.9 92.8,209.0 91.3,209.0 89.7,209.1 88.2,209.1 86.6,209.2 85.0,209.3 83.5,209.4 81.9,209.4 80.4,209.5 78.9,209.6 77.5,209.7 76.0,209.8 74.6,209.9 73.2,210.0 71.9,210.1 70.6,210.2 69.3,210.3 68.1,210.4 66.9,210.5 65.8,210.6 64.7,210.7 63.7,210.7 62.7,210.7 61.8,210.7 61.0,210.7 60.2,210.7 59.5,210.6 58.9,210.5 58.3,210.4 57.8,210.2 57.4,210.0 57.0,209.8 56.7,209.5 56.5,209.2 56.4,208.9 56.4,208.5 56.5,208.2 56.6,207.8 56.8,207.4 57.2,207.0 57.6,206.6 58.0,206.1 58.6,205.7 59.3,205.2 60.0,204.8 60.8,204.3 61.7,203.9 62.7,203.5 63.7,203.1 64.8,202.7 66.0,202.3 67.2,202.0 68.5,201.7 69.8,201.4 71.2,201.2 72.7,201.0 74.1,200.9 75.7,200.8 77.2,200.7 78.8,200.7 80.4,200.7 82.0,200.8 83.6,200.9 85.2,201.1 86.8,201.3 88.4,201.4 90.0,201.7 91.6,201.9 93.1,202.2 94.7,202.4 96.2,202.7 97.7,203.1 99.2,203.4 100.6,203.7 102.0,204.1 103.3,204.4 104.6,204.8 105.9,205.1 107.1,205.5 108.2,205.8 109.3,206.2 110.3,206.5 111.3,206.8 112.1,207.1 113.0,207.4 113.7,207.7 114.4,207.9 115.0,208.1 115.5,208.3 115.9,208.5 116.3,208.6 116.6,208.8 116.8,208.8 116.9,208.9 116.9,208.9" fill="#555" stroke="#555" stroke-width="0.4"/>
</g>
<rect x="26.2" y="171.2" width="151.2" height="75.4" fill="none" stroke="#000" stroke-opacity="0.5" stroke-width="0.6"/>
<path d="M26.2,246.6v-1.6M32.2,246.6v-0.8M38.3,246.6v-0.8M44.3,246.6v-0.8M50.4,246.6v-0.8M56.4,246.6v-1.6M62.5,246.6v-0.8M68.5,246.6v-0.8M74.6,246.6v-0.8M80.6,246.6v-0.8M86.7,246.6v-1.6M92.7,246.6v-0.8M98.8,246.6v-0.8M104.8,246.6v-0.8M110.9,246.6v-0.8M116.9,246.6v-1.6M123.0,246.6v-0.8M129.0,246.6v-0.8M135.1,246.6v-0.8M141.1,246.6v-0.8M147.2,246.6v-1.6M153.2,246.6v-0.8M159.3,246.6v-0.8M165.3,246.6v-0.8M171.4,246.6v-0.8M177.4,246.6v-1.6M26.2,171.2h1.6M26.2,175.0h0.8M26.2,178.7h0.8M26.2,182.5h0.8M26.2,186.3h0.8M26.2,190.0h1.6M26.2,193.8h0.8M26.2,197.6h0.8M26.2,201.4h0.8M26.2,205.1h0.8M26.2,208.9h1.6M26.2,212.7h0.8M26.2,216.4h0.8M26.2,220.2h0.8M26.2,224.0h0.8M26.2,227.8h1.6M26.2,231.5h0.8M26.2,235.3h0.8M26.2,239.1h0.8M26.2,242.8h0.8M26.2,246.6h1.6" stroke="#000" stroke-opacity="0.45" stroke-width="0.5" fill="none"/>
<g font-family="'Liberation Sans',sans-serif" font-size="4.7px" fill="#000" stroke="#000" stroke-width="0.12">
<text x="21.9" y="173.2" text-anchor="end">0.5</text>
<text x="21.9" y="192.0" text-anchor="end">0.25</text>
<text x="21.9" y="210.9" text-anchor="end">0</text>
<text x="21.9" y="229.8" text-anchor="end">-0.25</text>
<text x="21.9" y="248.6" text-anchor="end">-0.5</text>
<text x="26.5" y="251.2" text-anchor="middle">-0.5</text>
<text x="56.7" y="251.2" text-anchor="middle">0</text>
<text x="87.0" y="251.2" text-anchor="middle">0.5</text>
<text x="117.2" y="251.2" text-anchor="middle">1</text>
<text x="147.5" y="251.2" text-anchor="middle">1.5</text>
<text x="177.7" y="251.2" text-anchor="middle">2</text>
</g>
<g font-family="'Liberation Serif',serif" font-style="italic" font-weight="bold" font-size="6.5px" fill="#111" text-anchor="middle">
<text x="101.8" y="256.5" font-size="8.6px">x</text>
<text transform="translate(9.2,209.1) rotate(-90)" x="0" y="1.5" font-size="7px">y</text>
</g>
<g clip-path="url(#c11)" filter="url(#bl)">
<rect x="202.4" y="167.2" width="160.2" height="83.4" fill="#00fa00"/>
<path d="M239.9,208.9L239.8,204.8L239.5,200.7L239.0,196.6L238.4,192.4L237.5,188.3L236.5,184.2L235.3,180.1L233.9,176.0L232.3,171.9L230.5,167.8L228.5,163.7L305.6,163.7L304.2,167.8L303.0,171.9L301.9,176.0L300.9,180.1L300.1,184.2L299.4,188.3L298.8,192.4L298.3,196.6L298.0,200.7L297.8,204.8L297.7,208.9Z" fill="#00fb1a"/>
<path d="M242.9,208.9L242.9,202.1L243.0,197.6L243.2,193.6L243.6,189.9L244.1,186.3L244.7,182.9L245.4,179.7L246.3,176.6L247.4,173.7L248.5,171.0L249.8,168.6L251.1,166.3L252.6,164.2L254.2,162.3L255.9,160.7L257.6,159.3L259.5,158.2L261.5,157.3L263.5,156.6L265.7,156.2L268.2,156.1L270.2,156.3L272.1,156.7L274.1,157.4L276.0,158.4L277.9,159.6L279.7,161.1L281.4,162.9L283.0,164.9L284.6,167.1L286.1,169.6L287.4,172.2L288.6,175.1L289.7,178.1L290.7,181.2L291.5,184.5L292.2,187.9L292.8,191.4L293.1,194.9L293.4,198.5L293.5,202.1L293.5,208.9Z" fill="#00fe50"/>
<path d="M243.5,208.9L243.5,202.1L243.6,199.1L243.8,196.4L244.1,193.9L244.6,191.5L245.1,189.2L245.8,187.0L246.7,185.0L247.6,183.0L248.6,181.2L249.8,179.6L251.0,178.0L252.4,176.6L253.8,175.4L255.4,174.3L257.0,173.3L258.7,172.6L260.5,172.0L262.4,171.5L264.4,171.3L266.7,171.2L268.5,171.3L270.3,171.6L272.1,172.1L273.8,172.7L275.5,173.6L277.2,174.6L278.8,175.8L280.3,177.1L281.7,178.6L283.0,180.3L284.3,182.0L285.4,183.9L286.4,186.0L287.3,188.1L288.0,190.3L288.7,192.6L289.2,194.9L289.5,197.3L289.7,199.7L289.8,202.1L289.8,208.9Z" fill="#00ff87"/>
<path d="M244.5,208.9L244.5,202.1L244.5,199.7L244.7,197.6L245.0,195.6L245.4,193.7L245.9,191.8L246.5,190.1L247.3,188.5L248.1,187.0L249.0,185.5L250.1,184.2L251.2,183.0L252.4,181.8L253.7,180.8L255.1,180.0L256.6,179.2L258.1,178.6L259.7,178.2L261.4,177.8L263.2,177.6L265.3,177.5L266.9,177.6L268.6,177.8L270.2,178.2L271.7,178.7L273.3,179.4L274.8,180.2L276.2,181.2L277.6,182.2L278.8,183.4L280.0,184.7L281.2,186.2L282.2,187.7L283.1,189.3L283.9,191.0L284.6,192.7L285.1,194.5L285.6,196.4L285.9,198.3L286.1,200.2L286.2,202.1L286.2,208.9Z" fill="#00ffb9"/>
<path d="M245.7,208.9L245.7,202.1L245.7,200.3L245.9,198.7L246.1,197.2L246.5,195.8L246.9,194.5L247.5,193.2L248.2,192.0L248.9,190.8L249.7,189.7L250.6,188.7L251.6,187.8L252.7,187.0L253.9,186.3L255.1,185.6L256.4,185.1L257.8,184.6L259.2,184.3L260.7,184.0L262.3,183.8L264.1,183.8L265.5,183.8L267.0,184.0L268.4,184.3L269.8,184.7L271.1,185.2L272.4,185.8L273.7,186.5L274.9,187.3L276.0,188.2L277.1,189.2L278.1,190.2L279.0,191.3L279.8,192.5L280.5,193.8L281.1,195.1L281.6,196.5L282.0,197.8L282.3,199.2L282.4,200.7L282.5,202.1L282.5,208.9Z" fill="#00ffe8"/>
<path d="M248.2,208.9L248.2,202.1L248.2,200.9L248.3,199.8L248.5,198.8L248.8,197.9L249.2,197.0L249.6,196.1L250.2,195.3L250.8,194.5L251.5,193.8L252.2,193.1L253.0,192.5L253.9,191.9L254.8,191.4L255.8,191.0L256.9,190.6L258.0,190.3L259.1,190.1L260.3,189.9L261.6,189.8L263.1,189.7L264.2,189.8L265.4,189.9L266.6,190.1L267.7,190.4L268.8,190.7L269.9,191.1L270.9,191.6L271.8,192.1L272.8,192.7L273.6,193.4L274.4,194.1L275.1,194.8L275.8,195.7L276.4,196.5L276.9,197.4L277.3,198.3L277.6,199.2L277.8,200.2L277.9,201.1L278.0,202.1L278.0,208.9Z" fill="#00e4ff"/>
<path d="M251.0,208.9L251.0,202.1L251.0,201.3L251.1,200.6L251.2,199.9L251.4,199.3L251.7,198.7L252.0,198.1L252.4,197.5L252.8,197.0L253.3,196.5L253.8,196.1L254.4,195.6L255.0,195.3L255.7,194.9L256.4,194.6L257.1,194.4L257.9,194.2L258.7,194.0L259.5,193.9L260.5,193.8L261.5,193.8L262.3,193.8L263.1,193.9L264.0,194.0L264.8,194.2L265.5,194.5L266.3,194.7L267.0,195.0L267.7,195.4L268.3,195.8L268.9,196.2L269.5,196.7L270.0,197.2L270.5,197.8L270.9,198.3L271.2,198.9L271.5,199.6L271.7,200.2L271.9,200.8L272.0,201.5L272.0,202.1L272.0,208.9Z" fill="#00b6ff"/>
<path d="M239.3,208.9L239.3,208.9L239.3,213.7L239.5,217.8L239.7,221.8L240.1,225.5L240.6,229.1L241.2,232.4L241.8,235.6L242.6,238.7L243.4,241.5L244.4,244.1L245.4,246.5L246.5,248.7L247.7,250.6L248.9,252.3L250.3,253.8L251.7,255.0L253.1,255.9L254.7,256.6L256.3,257.0L258.1,257.2L259.6,257.0L261.1,256.6L262.6,255.8L264.0,254.8L265.4,253.5L266.7,251.9L268.0,250.0L269.2,247.9L270.4,245.6L271.5,243.0L272.5,240.2L273.4,237.3L274.2,234.1L275.0,230.8L275.6,227.4L276.1,223.8L276.5,220.2L276.8,216.4L277.0,212.7L277.0,208.9L277.0,208.9Z" fill="#00fb1a"/>
<path d="M239.3,208.9L239.3,208.9L239.3,210.6L239.4,212.1L239.5,213.5L239.8,214.8L240.0,216.0L240.3,217.2L240.7,218.4L241.1,219.5L241.6,220.5L242.2,221.4L242.7,222.2L243.4,223.0L244.0,223.7L244.7,224.3L245.5,224.8L246.3,225.3L247.1,225.6L248.0,225.8L248.9,226.0L249.9,226.0L250.8,226.0L251.6,225.8L252.4,225.5L253.2,225.2L254.0,224.7L254.8,224.2L255.5,223.5L256.2,222.7L256.8,221.9L257.5,221.0L258.0,220.0L258.5,219.0L259.0,217.8L259.4,216.7L259.8,215.4L260.1,214.2L260.3,212.9L260.5,211.6L260.6,210.2L260.6,208.9L260.6,208.9Z" fill="#00fe50"/>
<path d="M239.0,208.9L239.0,208.9L239.0,210.1L239.1,211.1L239.2,212.1L239.4,213.0L239.6,213.9L239.8,214.7L240.1,215.5L240.5,216.3L240.9,217.0L241.3,217.6L241.7,218.2L242.2,218.8L242.8,219.3L243.4,219.7L244.0,220.1L244.6,220.4L245.2,220.6L245.9,220.8L246.7,220.9L247.5,220.9L248.2,220.9L248.9,220.7L249.5,220.6L250.2,220.3L250.8,220.0L251.4,219.6L252.0,219.1L252.6,218.6L253.1,218.0L253.6,217.4L254.0,216.7L254.4,215.9L254.8,215.2L255.1,214.3L255.4,213.5L255.7,212.6L255.8,211.7L256.0,210.8L256.1,209.8L256.1,208.9L256.1,208.9Z" fill="#00ff87"/>
<path d="M238.7,208.9L238.7,208.9L238.7,209.7L238.7,210.4L238.8,211.1L239.0,211.7L239.1,212.3L239.3,212.9L239.5,213.5L239.8,214.0L240.1,214.5L240.4,214.9L240.8,215.3L241.1,215.7L241.5,216.0L242.0,216.3L242.4,216.5L242.9,216.8L243.4,216.9L243.9,217.0L244.5,217.1L245.1,217.1L245.6,217.1L246.1,217.0L246.6,216.9L247.1,216.7L247.6,216.5L248.0,216.2L248.5,215.9L248.9,215.5L249.3,215.1L249.7,214.7L250.0,214.2L250.3,213.7L250.6,213.2L250.9,212.6L251.1,212.0L251.3,211.4L251.4,210.8L251.5,210.2L251.6,209.5L251.6,208.9L251.6,208.9Z" fill="#00ffb9"/>
<path d="M238.1,208.9L238.1,208.9L238.1,209.4L238.1,209.8L238.2,210.2L238.2,210.5L238.3,210.9L238.5,211.2L238.6,211.5L238.8,211.8L238.9,212.1L239.1,212.4L239.3,212.6L239.6,212.8L239.8,213.0L240.1,213.2L240.4,213.3L240.7,213.4L241.0,213.5L241.3,213.6L241.6,213.6L242.0,213.7L242.3,213.6L242.6,213.6L242.9,213.5L243.2,213.4L243.5,213.3L243.8,213.1L244.1,213.0L244.3,212.7L244.6,212.5L244.8,212.3L245.0,212.0L245.2,211.7L245.4,211.4L245.5,211.1L245.7,210.7L245.8,210.4L245.9,210.0L245.9,209.6L246.0,209.3L246.0,208.9L246.0,208.9Z" fill="#00ffe8"/>
<path d="M233.2,211.8L234.7,211.6L235.9,210.8L236.9,208.9L236.6,208.5L236.9,208.1L236.9,207.8L237.9,206.3L237.5,204.8L236.8,203.8L235.9,203.1L235.0,202.7L233.5,202.7L232.3,203.3L231.1,204.6L230.4,206.3L230.3,208.1L230.8,209.7L231.9,211.2Z" fill="#7dfa00"/>
<path d="M233.8,211.1L235.0,211.0L236.2,210.2L236.9,208.9L236.6,208.5L236.9,208.1L236.9,207.8L237.8,206.6L237.5,205.5L237.1,204.8L236.2,203.9L235.3,203.5L234.1,203.5L232.9,204.2L232.1,205.1L231.5,206.6L231.5,208.1L232.0,209.6L232.9,210.7Z" fill="#d7fa00"/>
<path d="M234.4,210.6L235.3,210.5L236.2,210.0L236.8,209.2L236.9,208.9L236.6,208.5L237.6,206.6L237.4,205.9L236.8,204.9L235.6,204.2L234.7,204.2L233.6,204.8L233.0,205.5L232.5,206.6L232.4,208.1L232.8,209.3L233.5,210.1Z" fill="#ffeb00"/>
<path d="M235.3,209.8L235.9,209.7L236.8,209.1L236.9,208.9L236.6,208.5L237.4,207.0L236.8,205.9L235.9,205.5L235.3,205.5L234.7,205.9L234.1,206.6L233.9,207.4L234.2,208.9L234.7,209.5Z" fill="#ffbe00"/>
<path d="M235.6,209.4L236.2,209.4L236.8,209.1L236.9,208.9L236.6,208.5L236.9,208.1L237.2,207.0L236.8,206.4L236.2,206.1L235.3,206.3L234.7,207.4L234.7,208.5L235.0,209.0Z" fill="#ff8c00"/>
<path d="M235.9,209.1L236.8,209.0L236.9,208.9L236.6,208.5L237.1,207.4L236.5,206.8L235.9,206.8L235.3,207.6L235.4,208.5Z" fill="#ff5a00"/>
<path d="M236.2,208.9L236.5,208.8L236.9,208.1L236.9,207.4L236.5,207.2L236.0,207.4L235.8,207.8L235.8,208.5Z" fill="#ff2300"/>
<polygon points="297.7,208.9 297.7,208.9 297.5,208.9 297.3,208.9 297.0,208.9 296.7,208.9 296.2,208.9 295.7,208.8 295.0,208.8 294.3,208.8 293.6,208.8 292.7,208.8 291.8,208.8 290.8,208.8 289.8,208.7 288.7,208.7 287.5,208.7 286.3,208.7 285.0,208.7 283.7,208.7 282.3,208.8 280.9,208.8 279.5,208.8 278.0,208.8 276.5,208.9 275.0,208.9 273.5,209.0 271.9,209.0 270.3,209.1 268.8,209.1 267.2,209.2 265.6,209.3 264.1,209.4 262.5,209.4 261.0,209.5 259.5,209.6 258.0,209.7 256.6,209.8 255.1,209.9 253.7,210.0 252.4,210.1 251.1,210.2 249.8,210.3 248.6,210.4 247.4,210.5 246.3,210.6 245.2,210.7 244.1,210.7 243.2,210.7 242.3,210.7 241.4,210.7 240.6,210.7 239.9,210.6 239.3,210.5 238.7,210.4 238.2,210.2 237.8,210.0 237.4,209.8 237.1,209.5 236.9,209.2 236.8,208.9 236.8,208.5 236.9,208.2 237.0,207.8 237.2,207.4 237.6,207.0 238.0,206.6 238.5,206.1 239.0,205.7 239.7,205.2 240.4,204.8 241.2,204.3 242.1,203.9 243.1,203.5 244.1,203.1 245.2,202.7 246.4,202.3 247.7,202.0 249.0,201.7 250.3,201.4 251.7,201.2 253.2,201.0 254.7,200.9 256.2,200.8 257.8,200.7 259.3,200.7 260.9,200.7 262.5,200.8 264.1,200.9 265.8,201.1 267.4,201.3 269.0,201.4 270.6,201.7 272.2,201.9 273.8,202.2 275.3,202.4 276.9,202.7 278.4,203.1 279.8,203.4 281.3,203.7 282.7,204.1 284.0,204.4 285.3,204.8 286.6,205.1 287.8,205.5 289.0,205.8 290.0,206.2 291.1,206.5 292.0,206.8 292.9,207.1 293.7,207.4 294.5,207.7 295.1,207.9 295.7,208.1 296.3,208.3 296.7,208.5 297.1,208.6 297.4,208.8 297.6,208.8 297.7,208.9 297.7,208.9" fill="#555" stroke="#555" stroke-width="0.4"/>
</g>
<rect x="206.4" y="171.2" width="152.2" height="75.4" fill="none" stroke="#000" stroke-opacity="0.5" stroke-width="0.6"/>
<path d="M206.4,246.6v-1.6M212.5,246.6v-0.8M218.6,246.6v-0.8M224.7,246.6v-0.8M230.8,246.6v-0.8M236.8,246.6v-1.6M242.9,246.6v-0.8M249.0,246.6v-0.8M255.1,246.6v-0.8M261.2,246.6v-0.8M267.3,246.6v-1.6M273.4,246.6v-0.8M279.5,246.6v-0.8M285.5,246.6v-0.8M291.6,246.6v-0.8M297.7,246.6v-1.6M303.8,246.6v-0.8M309.9,246.6v-0.8M316.0,246.6v-0.8M322.1,246.6v-0.8M328.2,246.6v-1.6M334.2,246.6v-0.8M340.3,246.6v-0.8M346.4,246.6v-0.8M352.5,246.6v-0.8M358.6,246.6v-1.6M206.4,171.2h1.6M206.4,175.0h0.8M206.4,178.7h0.8M206.4,182.5h0.8M206.4,186.3h0.8M206.4,190.0h1.6M206.4,193.8h0.8M206.4,197.6h0.8M206.4,201.4h0.8M206.4,205.1h0.8M206.4,208.9h1.6M206.4,212.7h0.8M206.4,216.4h0.8M206.4,220.2h0.8M206.4,224.0h0.8M206.4,227.8h1.6M206.4,231.5h0.8M206.4,235.3h0.8M206.4,239.1h0.8M206.4,242.8h0.8M206.4,246.6h1.6" stroke="#000" stroke-opacity="0.45" stroke-width="0.5" fill="none"/>
<g font-family="'Liberation Sans',sans-serif" font-size="4.7px" fill="#000" stroke="#000" stroke-width="0.12">
<text x="202.1" y="173.2" text-anchor="end">0.5</text>
<text x="202.1" y="192.0" text-anchor="end">0.25</text>
<text x="202.1" y="210.9" text-anchor="end">0</text>
<text x="202.1" y="229.8" text-anchor="end">-0.25</text>
<text x="202.1" y="248.6" text-anchor="end">-0.5</text>
<text x="206.7" y="251.2" text-anchor="middle">-0.5</text>
<text x="237.1" y="251.2" text-anchor="middle">0</text>
<text x="267.6" y="251.2" text-anchor="middle">0.5</text>
<text x="298.0" y="251.2" text-anchor="middle">1</text>
<text x="328.5" y="251.2" text-anchor="middle">1.5</text>
<text x="358.9" y="251.2" text-anchor="middle">2</text>
</g>
<g font-family="'Liberation Serif',serif" font-style="italic" font-weight="bold" font-size="6.5px" fill="#111" text-anchor="middle">
<text x="282.5" y="256.5" font-size="8.6px">x</text>
<text transform="translate(189.4,209.1) rotate(-90)" x="0" y="1.5" font-size="7px">y</text>
</g>
<g clip-path="url(#c12)" filter="url(#bl)">
<rect x="383.4" y="167.4" width="161.2" height="84.2" fill="#00fa00"/>
<path d="M381.3,163.8L383.6,163.5L385.6,163.8L388.4,163.3L389.9,164.1L392.1,163.9L394.3,163.8L397.1,164.1L399.4,163.7L401.0,163.7L403.5,163.9L406.0,163.8L405.8,167.4L406.0,171.4L409.2,174.4L411.1,177.3L413.2,179.2L414.8,184.0L418.0,182.4L418.5,185.3L418.8,188.9L419.9,191.7L421.3,193.7L421.6,196.4L422.1,200.1L419.6,204.2L419.3,206.6L418.0,209.5L418.0,211.4L418.4,214.2L417.9,218.4L418.0,221.1L418.6,223.8L418.7,227.1L419.1,229.6L419.6,232.4L420.5,235.3L421.8,237.3L422.9,240.4L424.2,244.3L425.3,247.6L425.1,251.5L425.3,255.2L422.8,255.6L420.9,255.7L418.7,255.4L416.7,254.9L414.5,255.0L411.9,255.0L409.7,255.1L407.5,255.3L405.0,255.5L403.7,255.5L401.3,255.0L399.1,255.3L396.8,255.7L394.1,255.6L391.9,255.7L389.7,255.2L387.6,254.7L385.8,255.2L383.7,255.5L381.3,255.2Z" fill="#7dfa00"/>
<path d="M455.7,255.2L455.3,250.6L455.7,247.6L453.7,244.6L452.6,243.2L451.5,241.3L449.5,239.2L450.3,236.5L451.7,232.4L449.9,229.1L449.5,226.8L448.4,224.4L448.1,221.1L446.4,217.5L447.8,215.3L449.8,212.0L451.1,209.5L453.5,210.0L455.1,210.0L457.3,210.3L459.2,208.5L462.8,210.2L463.3,210.1L466.7,208.9L467.7,209.3L469.8,209.5L473.1,208.5L474.6,208.9L477.8,208.6L479.3,209.5L479.9,207.1L483.0,204.8L483.6,202.1L486.3,200.8L488.4,199.7L489.3,199.3L491.6,197.7L494.4,195.9L497.6,194.5L499.7,193.5L501.7,191.8L503.8,191.3L506.9,188.2L509.9,187.3L512.0,189.0L513.6,189.2L516.1,188.2L517.7,190.7L519.2,194.4L521.4,195.1L525.3,194.4L527.1,193.9L529.9,192.6L531.4,191.3L534.7,192.1L537.5,192.8L540.6,195.9L543.2,195.0L546.3,196.8L548.5,196.3L549.7,196.2L552.9,195.9L552.9,197.6L552.6,202.4L553.5,204.9L552.8,206.0L552.9,209.5L553.4,213.1L553.0,215.0L553.7,216.9L552.1,220.8L552.8,222.5L552.6,225.9L553.6,227.3L552.7,230.1L552.6,234.6L552.9,236.0L553.5,238.1L553.3,241.2L553.2,244.0L553.3,246.1L552.6,250.7L552.4,253.1L552.9,255.2Z" fill="#7dfa00"/>
<ellipse cx="535.7" cy="209.5" rx="3.1" ry="1.5" fill="#00fa00"/>
<ellipse cx="517.3" cy="199.6" rx="1.2" ry="3.0" fill="#00fa00"/>
<ellipse cx="410.8" cy="206.6" rx="8.5" ry="10.2" fill="#d7fa00"/>
<ellipse cx="414.4" cy="207.4" rx="3.6" ry="5.6" fill="#ffeb00"/>
<ellipse cx="415.8" cy="208.0" rx="2.2" ry="3.7" fill="#ffbe00"/>
<ellipse cx="416.8" cy="208.4" rx="1.2" ry="2.3" fill="#ff8c00"/>
<ellipse cx="417.4" cy="208.7" rx="0.6" ry="1.4" fill="#ff3c00"/>
<polygon points="479.3,209.5 479.3,209.5 479.1,209.5 478.9,209.5 478.6,209.5 478.3,209.5 477.8,209.5 477.2,209.4 476.6,209.4 475.9,209.4 475.1,209.4 474.3,209.4 473.4,209.4 472.4,209.4 471.3,209.3 470.2,209.3 469.0,209.3 467.8,209.3 466.5,209.3 465.2,209.3 463.8,209.4 462.4,209.4 461.0,209.4 459.5,209.4 458.0,209.5 456.4,209.5 454.9,209.6 453.3,209.6 451.8,209.7 450.2,209.8 448.6,209.8 447.0,209.9 445.4,210.0 443.9,210.0 442.3,210.1 440.8,210.2 439.3,210.3 437.9,210.4 436.5,210.5 435.1,210.6 433.7,210.7 432.4,210.8 431.1,211.0 429.9,211.1 428.7,211.1 427.5,211.2 426.4,211.3 425.4,211.3 424.4,211.3 423.5,211.3 422.6,211.3 421.9,211.3 421.1,211.2 420.5,211.1 419.9,211.0 419.4,210.8 419.0,210.6 418.6,210.4 418.3,210.1 418.2,209.8 418.0,209.5 418.0,209.1 418.1,208.8 418.2,208.4 418.5,208.0 418.8,207.6 419.2,207.1 419.7,206.7 420.2,206.2 420.9,205.8 421.6,205.3 422.5,204.9 423.4,204.5 424.3,204.0 425.4,203.6 426.5,203.2 427.7,202.9 428.9,202.5 430.2,202.2 431.6,201.9 433.0,201.7 434.5,201.5 436.0,201.4 437.5,201.3 439.1,201.2 440.7,201.2 442.3,201.3 443.9,201.3 445.5,201.5 447.1,201.6 448.8,201.8 450.4,202.0 452.0,202.2 453.6,202.4 455.2,202.7 456.8,203.0 458.3,203.3 459.8,203.6 461.3,203.9 462.8,204.3 464.2,204.6 465.5,205.0 466.9,205.3 468.1,205.7 469.3,206.0 470.5,206.4 471.6,206.7 472.6,207.1 473.6,207.4 474.5,207.7 475.3,208.0 476.1,208.3 476.7,208.5 477.3,208.7 477.9,208.9 478.3,209.1 478.7,209.2 479.0,209.4 479.2,209.4 479.3,209.5 479.3,209.5" fill="#555" stroke="#555" stroke-width="0.4"/>
</g>
<rect x="387.4" y="171.4" width="153.2" height="76.2" fill="none" stroke="#000" stroke-opacity="0.5" stroke-width="0.6"/>
<path d="M387.4,247.6v-1.6M393.5,247.6v-0.8M399.7,247.6v-0.8M405.8,247.6v-0.8M411.9,247.6v-0.8M418.0,247.6v-1.6M424.2,247.6v-0.8M430.3,247.6v-0.8M436.4,247.6v-0.8M442.6,247.6v-0.8M448.7,247.6v-1.6M454.8,247.6v-0.8M460.9,247.6v-0.8M467.1,247.6v-0.8M473.2,247.6v-0.8M479.3,247.6v-1.6M485.4,247.6v-0.8M491.6,247.6v-0.8M497.7,247.6v-0.8M503.8,247.6v-0.8M510.0,247.6v-1.6M516.1,247.6v-0.8M522.2,247.6v-0.8M528.3,247.6v-0.8M534.5,247.6v-0.8M540.6,247.6v-1.6M387.4,171.4h1.6M387.4,175.2h0.8M387.4,179.0h0.8M387.4,182.8h0.8M387.4,186.6h0.8M387.4,190.4h1.6M387.4,194.3h0.8M387.4,198.1h0.8M387.4,201.9h0.8M387.4,205.7h0.8M387.4,209.5h1.6M387.4,213.3h0.8M387.4,217.1h0.8M387.4,220.9h0.8M387.4,224.7h0.8M387.4,228.6h1.6M387.4,232.4h0.8M387.4,236.2h0.8M387.4,240.0h0.8M387.4,243.8h0.8M387.4,247.6h1.6" stroke="#000" stroke-opacity="0.45" stroke-width="0.5" fill="none"/>
<g font-family="'Liberation Sans',sans-serif" font-size="4.7px" fill="#000" stroke="#000" stroke-width="0.12">
<text x="383.1" y="173.4" text-anchor="end">0.5</text>
<text x="383.1" y="192.4" text-anchor="end">0.25</text>
<text x="383.1" y="211.5" text-anchor="end">0</text>
<text x="383.1" y="230.6" text-anchor="end">-0.25</text>
<text x="383.1" y="249.6" text-anchor="end">-0.5</text>
<text x="387.7" y="252.2" text-anchor="middle">-0.5</text>
<text x="418.3" y="252.2" text-anchor="middle">0</text>
<text x="449.0" y="252.2" text-anchor="middle">0.5</text>
<text x="479.6" y="252.2" text-anchor="middle">1</text>
<text x="510.3" y="252.2" text-anchor="middle">1.5</text>
<text x="540.9" y="252.2" text-anchor="middle">2</text>
</g>
<g font-family="'Liberation Serif',serif" font-style="italic" font-weight="bold" font-size="6.5px" fill="#111" text-anchor="middle">
<text x="464.0" y="257.5" font-size="8.6px">x</text>
<text transform="translate(370.4,209.7) rotate(-90)" x="0" y="1.5" font-size="7px">y</text>
</g>
<g clip-path="url(#c20)" filter="url(#bl)">
<rect x="21.0" y="280.4" width="163.5" height="85.6" fill="#00fa00"/>
<path d="M62.3,323.2H119.5V276.6H62.3Z" fill="#00fb1a"/>
<path d="M63.9,323.2L63.9,320.5L63.9,317.3L64.1,314.4L64.5,311.8L65.0,309.3L65.6,306.9L66.3,304.6L67.2,302.4L68.2,300.4L69.3,298.5L70.5,296.7L71.8,295.1L73.2,293.6L74.8,292.3L76.4,291.1L78.1,290.2L79.9,289.3L81.8,288.7L83.8,288.3L85.9,288.0L88.3,287.9L90.2,288.0L92.1,288.3L94.0,288.8L95.8,289.5L97.6,290.4L99.4,291.4L101.0,292.7L102.6,294.1L104.1,295.7L105.6,297.4L106.9,299.3L108.0,301.3L109.1,303.5L110.0,305.7L110.8,308.0L111.5,310.4L112.0,312.9L112.4,315.4L112.6,317.9L112.7,320.5L112.7,323.2Z" fill="#00fe50"/>
<path d="M64.2,323.2L64.2,320.5L64.2,318.4L64.4,316.6L64.7,314.9L65.1,313.2L65.6,311.7L66.2,310.2L67.0,308.8L67.8,307.5L68.7,306.2L69.8,305.1L70.9,304.0L72.1,303.1L73.4,302.2L74.8,301.5L76.2,300.8L77.7,300.3L79.3,299.9L81.0,299.6L82.8,299.4L84.8,299.4L86.5,299.4L88.1,299.6L89.7,300.0L91.2,300.4L92.7,301.0L94.2,301.7L95.6,302.5L97.0,303.4L98.2,304.4L99.4,305.6L100.5,306.8L101.5,308.1L102.4,309.5L103.2,310.9L103.9,312.4L104.5,314.0L104.9,315.6L105.2,317.2L105.4,318.8L105.5,320.5L105.5,323.2Z" fill="#00ff87"/>
<path d="M64.8,323.2L64.8,320.5L64.9,319.2L65.0,318.1L65.2,317.0L65.5,316.0L65.9,315.1L66.4,314.2L66.9,313.3L67.6,312.5L68.3,311.7L69.1,311.0L69.9,310.4L70.8,309.8L71.8,309.3L72.9,308.8L74.0,308.4L75.1,308.1L76.3,307.9L77.6,307.7L79.0,307.6L80.5,307.5L81.7,307.6L83.0,307.7L84.2,307.9L85.4,308.2L86.5,308.5L87.6,308.9L88.7,309.4L89.7,310.0L90.7,310.6L91.6,311.3L92.5,312.1L93.2,312.9L93.9,313.7L94.5,314.6L95.0,315.5L95.5,316.5L95.8,317.5L96.0,318.5L96.2,319.5L96.2,320.5L96.2,323.2Z" fill="#00ffb9"/>
<path d="M66.7,323.2L66.7,320.5L66.7,319.7L66.8,319.1L67.0,318.5L67.2,317.9L67.5,317.4L67.8,316.9L68.3,316.4L68.7,315.9L69.3,315.5L69.9,315.0L70.5,314.7L71.2,314.3L71.9,314.0L72.7,313.8L73.5,313.6L74.4,313.4L75.3,313.2L76.3,313.1L77.3,313.1L78.4,313.0L79.4,313.1L80.3,313.1L81.2,313.2L82.1,313.4L82.9,313.6L83.8,313.8L84.6,314.1L85.3,314.5L86.1,314.8L86.7,315.2L87.4,315.6L87.9,316.1L88.5,316.6L88.9,317.1L89.3,317.6L89.6,318.2L89.9,318.7L90.0,319.3L90.1,319.9L90.2,320.5L90.2,323.2Z" fill="#00ffe8"/>
<path d="M60.2,369.8H119.5V323.2H60.2Z" fill="#00fb1a"/>
<path d="M61.4,323.2L61.4,323.2L61.5,326.9L61.7,330.2L62.0,333.2L62.5,336.2L63.1,338.9L63.9,341.6L64.8,344.1L65.8,346.5L66.9,348.7L68.2,350.7L69.5,352.6L71.0,354.3L72.5,355.8L74.2,357.2L76.0,358.3L77.8,359.2L79.8,360.0L81.8,360.5L83.9,360.8L86.4,360.9L88.4,360.8L90.3,360.4L92.3,359.9L94.2,359.1L96.0,358.0L97.8,356.8L99.5,355.4L101.1,353.7L102.7,351.9L104.1,349.9L105.5,347.7L106.7,345.4L107.8,342.9L108.7,340.3L109.6,337.6L110.2,334.9L110.8,332.0L111.1,329.1L111.4,326.2L111.5,323.2L111.5,323.2Z" fill="#00fe50"/>
<path d="M60.5,323.2L60.5,323.2L60.5,325.5L60.7,327.6L60.9,329.5L61.3,331.3L61.7,333.0L62.3,334.7L62.9,336.2L63.6,337.7L64.5,339.1L65.4,340.4L66.3,341.5L67.4,342.6L68.5,343.5L69.7,344.4L71.0,345.1L72.4,345.7L73.8,346.1L75.2,346.4L76.8,346.6L78.6,346.7L80.0,346.6L81.4,346.4L82.8,346.1L84.2,345.6L85.5,344.9L86.8,344.2L88.1,343.2L89.2,342.2L90.4,341.1L91.4,339.8L92.4,338.5L93.3,337.0L94.0,335.5L94.7,333.9L95.3,332.2L95.8,330.5L96.2,328.7L96.5,326.9L96.7,325.0L96.7,323.2L96.7,323.2Z" fill="#00ff87"/>
<path d="M59.8,323.2L59.8,323.2L59.9,324.6L60.0,325.8L60.2,327.0L60.5,328.1L60.8,329.2L61.2,330.2L61.7,331.1L62.3,332.0L62.9,332.8L63.6,333.6L64.4,334.3L65.2,335.0L66.1,335.6L67.0,336.1L68.0,336.5L69.1,336.8L70.2,337.1L71.3,337.3L72.5,337.4L73.9,337.5L75.0,337.4L76.1,337.3L77.2,337.1L78.3,336.8L79.3,336.4L80.3,335.9L81.3,335.4L82.2,334.8L83.1,334.1L83.9,333.3L84.6,332.5L85.3,331.6L85.9,330.7L86.5,329.7L86.9,328.7L87.3,327.6L87.6,326.5L87.8,325.4L88.0,324.3L88.0,323.2L88.0,323.2Z" fill="#00ffb9"/>
<path d="M59.2,323.2L59.2,323.2L59.2,324.0L59.3,324.6L59.5,325.2L59.7,325.8L59.9,326.4L60.2,326.9L60.6,327.5L61.0,327.9L61.4,328.4L61.9,328.8L62.4,329.2L63.0,329.5L63.6,329.8L64.3,330.1L65.0,330.3L65.7,330.5L66.5,330.7L67.3,330.8L68.2,330.9L69.2,330.9L69.9,330.9L70.7,330.8L71.5,330.7L72.2,330.5L73.0,330.3L73.7,330.0L74.4,329.8L75.0,329.4L75.6,329.0L76.2,328.6L76.7,328.2L77.2,327.7L77.6,327.2L78.0,326.7L78.4,326.1L78.6,325.6L78.8,325.0L79.0,324.4L79.1,323.8L79.1,323.2L79.1,323.2Z" fill="#00ffe8"/>
<path d="M51.7,328.8L53.0,328.7L53.9,328.3L55.5,327.0L56.3,325.1L56.4,324.4L56.2,324.0L56.2,322.4L56.7,321.6L56.4,319.7L55.5,318.1L54.2,317.1L52.7,316.6L50.8,316.9L49.9,317.4L49.0,318.2L47.8,320.1L47.3,322.0L47.4,324.4L47.8,325.5L48.4,326.7L49.9,328.1Z" fill="#7dfa00"/>
<path d="M52.7,327.6L53.6,327.6L54.5,327.2L55.8,326.0L56.3,324.4L56.2,324.0L56.2,322.4L56.6,321.6L56.4,320.3L55.8,319.2L54.5,318.2L53.3,317.8L51.7,318.1L50.5,319.0L49.5,320.5L49.1,322.4L49.3,324.4L50.0,325.9L51.1,327.1Z" fill="#d7fa00"/>
<path d="M53.3,326.8L54.5,326.6L55.8,325.6L56.3,324.4L56.2,322.4L56.6,321.6L56.4,320.9L55.8,319.7L54.9,319.0L53.9,318.8L52.7,319.0L51.6,319.7L50.8,320.9L50.5,322.4L50.6,324.0L51.1,325.3L52.1,326.3Z" fill="#ffeb00"/>
<path d="M54.2,325.5L55.2,325.4L56.1,324.4L56.2,322.4L56.4,322.0L56.2,321.3L55.8,320.7L54.9,320.2L53.9,320.4L53.3,320.8L52.7,321.6L52.5,322.4L52.6,323.6L52.9,324.4L53.5,325.1Z" fill="#ffbe00"/>
<path d="M54.9,324.9L55.5,324.8L56.1,324.2L56.2,322.4L56.3,322.0L55.8,321.2L55.2,320.9L54.5,321.0L53.9,321.5L53.4,322.8L53.5,323.6L53.9,324.4Z" fill="#ff8c00"/>
<path d="M55.2,324.4L55.8,324.3L56.1,323.9L56.2,322.0L55.5,321.5L54.9,321.6L54.5,321.9L54.2,322.8L54.5,324.0Z" fill="#ff5a00"/>
<path d="M55.5,324.0L56.1,323.7L56.1,322.2L55.8,322.0L55.2,322.1L54.8,322.8L54.9,323.6Z" fill="#ff2300"/>
<path d="M55.8,323.4L56.1,323.4L56.1,322.7L55.6,322.8L55.6,323.2Z" fill="#ff0000"/>
<polygon points="118.3,323.2 118.3,323.2 118.1,323.1 117.9,323.1 117.6,323.0 117.2,322.9 116.7,322.8 116.2,322.7 115.5,322.6 114.8,322.6 114.1,322.5 113.2,322.6 112.3,322.7 111.4,322.8 110.3,323.0 109.2,323.2 108.0,323.3 106.8,323.5 105.5,323.7 104.1,323.9 102.8,324.1 101.3,324.3 99.9,324.5 98.4,324.7 96.8,324.9 95.3,325.1 93.7,325.3 92.1,325.5 90.5,325.7 88.9,325.9 87.3,326.1 85.6,326.2 84.0,326.4 82.4,326.5 80.8,326.6 79.2,326.8 77.7,326.9 76.2,326.9 74.7,327.0 73.2,327.0 71.8,327.1 70.4,327.1 69.0,327.0 67.8,327.0 66.5,326.9 65.3,326.9 64.2,326.7 63.1,326.6 62.2,326.5 61.2,326.3 60.4,326.1 59.6,325.9 58.9,325.6 58.2,325.4 57.7,325.1 57.2,324.8 56.8,324.5 56.5,324.2 56.3,323.9 56.2,323.6 56.1,323.2 56.1,322.8 56.2,322.5 56.4,322.1 56.7,321.8 57.1,321.4 57.6,321.1 58.1,320.8 58.7,320.5 59.4,320.2 60.2,319.9 61.0,319.6 61.9,319.3 62.9,319.1 64.0,318.8 65.1,318.6 66.3,318.4 67.5,318.2 68.8,318.1 70.1,318.0 71.5,317.8 73.0,317.8 74.4,317.7 75.9,317.6 77.5,317.6 79.1,317.6 80.6,317.6 82.3,317.7 83.9,317.7 85.5,317.8 87.1,317.9 88.8,317.9 90.4,318.1 92.0,318.2 93.6,318.3 95.2,318.5 96.8,318.6 98.3,318.8 99.8,318.9 101.3,319.1 102.7,319.3 104.1,319.4 105.5,319.6 106.8,319.8 108.0,320.0 109.2,320.1 110.3,320.3 111.4,320.5 112.4,320.6 113.3,320.8 114.2,321.1 115.0,321.4 115.7,321.7 116.3,322.0 116.8,322.3 117.3,322.5 117.7,322.8 117.9,323.0 118.1,323.1 118.3,323.2 118.3,323.2" fill="#555" stroke="#555" stroke-width="0.4"/>
</g>
<rect x="25.0" y="284.4" width="155.5" height="77.6" fill="none" stroke="#000" stroke-opacity="0.5" stroke-width="0.6"/>
<path d="M25.0,362.0v-1.6M31.2,362.0v-0.8M37.4,362.0v-0.8M43.7,362.0v-0.8M49.9,362.0v-0.8M56.1,362.0v-1.6M62.3,362.0v-0.8M68.5,362.0v-0.8M74.8,362.0v-0.8M81.0,362.0v-0.8M87.2,362.0v-1.6M93.4,362.0v-0.8M99.6,362.0v-0.8M105.9,362.0v-0.8M112.1,362.0v-0.8M118.3,362.0v-1.6M124.5,362.0v-0.8M130.7,362.0v-0.8M137.0,362.0v-0.8M143.2,362.0v-0.8M149.4,362.0v-1.6M155.6,362.0v-0.8M161.8,362.0v-0.8M168.1,362.0v-0.8M174.3,362.0v-0.8M180.5,362.0v-1.6M25.0,284.4h1.6M25.0,288.3h0.8M25.0,292.2h0.8M25.0,296.0h0.8M25.0,299.9h0.8M25.0,303.8h1.6M25.0,307.7h0.8M25.0,311.6h0.8M25.0,315.4h0.8M25.0,319.3h0.8M25.0,323.2h1.6M25.0,327.1h0.8M25.0,331.0h0.8M25.0,334.8h0.8M25.0,338.7h0.8M25.0,342.6h1.6M25.0,346.5h0.8M25.0,350.4h0.8M25.0,354.2h0.8M25.0,358.1h0.8M25.0,362.0h1.6" stroke="#000" stroke-opacity="0.45" stroke-width="0.5" fill="none"/>
<g font-family="'Liberation Sans',sans-serif" font-size="4.7px" fill="#000" stroke="#000" stroke-width="0.12">
<text x="20.7" y="286.4" text-anchor="end">0.5</text>
<text x="20.7" y="305.8" text-anchor="end">0.25</text>
<text x="20.7" y="325.2" text-anchor="end">0</text>
<text x="20.7" y="344.6" text-anchor="end">-0.25</text>
<text x="20.7" y="364.0" text-anchor="end">-0.5</text>
<text x="25.3" y="366.6" text-anchor="middle">-0.5</text>
<text x="56.4" y="366.6" text-anchor="middle">0</text>
<text x="87.5" y="366.6" text-anchor="middle">0.5</text>
<text x="118.6" y="366.6" text-anchor="middle">1</text>
<text x="149.7" y="366.6" text-anchor="middle">1.5</text>
<text x="180.8" y="366.6" text-anchor="middle">2</text>
</g>
<g font-family="'Liberation Serif',serif" font-style="italic" font-weight="bold" font-size="6.5px" fill="#111" text-anchor="middle">
<text x="102.8" y="371.9" font-size="8.6px">x</text>
<text transform="translate(8.0,323.4) rotate(-90)" x="0" y="1.5" font-size="7px">y</text>
</g>
<g clip-path="url(#c21)" filter="url(#bl)">
<rect x="202.0" y="281.0" width="161.4" height="85.0" fill="#00fa00"/>
<path d="M242.8,323.5L242.8,319.3L242.7,315.1L242.6,310.9L242.3,306.7L242.1,302.5L241.8,298.3L241.4,294.1L240.9,289.9L240.5,285.7L239.9,281.5L239.3,277.3L302.8,277.3L302.2,281.5L301.6,285.7L301.1,289.9L300.7,294.1L300.3,298.3L300.0,302.5L299.7,306.7L299.5,310.9L299.4,315.1L299.3,319.3L299.3,323.5Z" fill="#00fb1a"/>
<path d="M244.3,323.5L244.3,320.8L244.4,317.6L244.6,314.8L245.0,312.2L245.4,309.7L246.0,307.3L246.7,305.0L247.6,302.9L248.6,300.9L249.7,299.0L250.9,297.2L252.2,295.6L253.6,294.1L255.1,292.8L256.7,291.7L258.4,290.7L260.2,289.9L262.0,289.3L264.0,288.8L266.1,288.6L268.4,288.5L270.3,288.6L272.2,288.9L274.1,289.4L275.9,290.0L277.7,290.9L279.4,292.0L281.0,293.2L282.6,294.6L284.1,296.2L285.5,297.9L286.7,299.8L287.9,301.8L289.0,303.9L289.9,306.1L290.7,308.4L291.3,310.8L291.9,313.3L292.2,315.7L292.4,318.3L292.5,320.8L292.5,323.5Z" fill="#00fe50"/>
<path d="M244.7,323.5L244.7,320.8L244.7,318.7L244.9,316.9L245.2,315.2L245.6,313.6L246.1,312.1L246.7,310.6L247.4,309.2L248.2,307.9L249.1,306.7L250.2,305.5L251.3,304.5L252.5,303.5L253.7,302.7L255.1,301.9L256.5,301.3L258.0,300.8L259.6,300.4L261.3,300.1L263.0,299.9L265.0,299.9L266.6,299.9L268.2,300.1L269.8,300.4L271.3,300.9L272.8,301.5L274.3,302.1L275.7,302.9L277.0,303.9L278.3,304.9L279.4,306.0L280.5,307.2L281.5,308.5L282.4,309.9L283.2,311.3L283.8,312.8L284.4,314.3L284.8,315.9L285.1,317.5L285.3,319.2L285.4,320.8L285.4,323.5Z" fill="#00ff87"/>
<path d="M245.3,323.5L245.3,320.8L245.3,319.5L245.4,318.4L245.7,317.4L246.0,316.4L246.3,315.4L246.8,314.5L247.4,313.7L248.0,312.9L248.7,312.1L249.5,311.4L250.3,310.8L251.2,310.2L252.2,309.7L253.2,309.2L254.3,308.8L255.4,308.5L256.6,308.3L257.9,308.1L259.2,308.0L260.8,307.9L262.0,308.0L263.2,308.1L264.4,308.3L265.6,308.6L266.7,308.9L267.8,309.3L268.9,309.8L269.9,310.4L270.8,311.0L271.7,311.7L272.5,312.5L273.3,313.2L274.0,314.1L274.6,315.0L275.1,315.9L275.5,316.8L275.8,317.8L276.1,318.8L276.2,319.8L276.3,320.8L276.3,323.5Z" fill="#00ffb9"/>
<path d="M247.1,323.5L247.1,320.8L247.1,320.1L247.2,319.4L247.4,318.8L247.6,318.3L247.9,317.7L248.3,317.2L248.7,316.7L249.1,316.2L249.7,315.8L250.2,315.4L250.9,315.0L251.6,314.7L252.3,314.4L253.1,314.1L253.9,313.9L254.7,313.7L255.6,313.6L256.6,313.5L257.6,313.4L258.7,313.4L259.6,313.4L260.5,313.5L261.4,313.6L262.3,313.8L263.1,314.0L264.0,314.2L264.8,314.5L265.5,314.8L266.2,315.2L266.9,315.6L267.5,316.0L268.1,316.5L268.6,316.9L269.0,317.4L269.4,318.0L269.7,318.5L270.0,319.1L270.2,319.6L270.3,320.2L270.3,320.8L270.3,323.5Z" fill="#00ffe8"/>
<path d="M240.7,323.5L240.7,327.7L240.6,331.9L240.5,336.1L240.3,340.3L240.1,344.5L239.8,348.7L239.4,352.9L239.0,357.1L238.6,361.3L238.1,365.5L237.5,369.7L302.8,369.7L302.2,365.5L301.6,361.3L301.1,357.1L300.7,352.9L300.3,348.7L300.0,344.5L299.7,340.3L299.5,336.1L299.4,331.9L299.3,327.7L299.3,323.5Z" fill="#00fb1a"/>
<path d="M241.9,323.5L241.9,323.5L242.0,327.2L242.2,330.4L242.5,333.5L243.0,336.4L243.6,339.1L244.4,341.8L245.2,344.2L246.2,346.6L247.3,348.8L248.6,350.8L249.9,352.7L251.4,354.4L252.9,355.9L254.5,357.2L256.3,358.3L258.1,359.3L260.0,360.0L262.0,360.5L264.2,360.8L266.6,360.9L268.5,360.8L270.5,360.5L272.4,359.9L274.2,359.1L276.0,358.1L277.8,356.8L279.5,355.4L281.1,353.8L282.6,352.0L284.1,350.0L285.4,347.8L286.6,345.5L287.7,343.1L288.6,340.5L289.4,337.8L290.1,335.1L290.6,332.2L291.0,329.4L291.2,326.4L291.3,323.5L291.3,323.5Z" fill="#00fe50"/>
<path d="M241.0,323.5L241.0,323.5L241.0,325.8L241.2,327.8L241.4,329.7L241.8,331.5L242.2,333.2L242.8,334.9L243.4,336.4L244.1,337.9L244.9,339.3L245.8,340.5L246.8,341.7L247.8,342.7L248.9,343.7L250.1,344.5L251.4,345.2L252.7,345.8L254.1,346.2L255.5,346.6L257.1,346.8L258.9,346.8L260.3,346.8L261.7,346.5L263.0,346.2L264.4,345.7L265.7,345.1L267.0,344.3L268.2,343.4L269.4,342.4L270.5,341.2L271.5,340.0L272.5,338.7L273.3,337.2L274.1,335.7L274.8,334.1L275.4,332.4L275.9,330.7L276.3,328.9L276.5,327.1L276.7,325.3L276.7,323.5L276.7,323.5Z" fill="#00ff87"/>
<path d="M240.4,323.5L240.4,323.5L240.4,324.9L240.5,326.1L240.7,327.3L241.0,328.4L241.3,329.4L241.7,330.4L242.2,331.4L242.8,332.2L243.4,333.1L244.1,333.8L244.9,334.5L245.7,335.2L246.6,335.8L247.5,336.3L248.5,336.7L249.5,337.0L250.6,337.3L251.7,337.5L252.9,337.6L254.3,337.7L255.4,337.6L256.4,337.5L257.5,337.3L258.6,337.0L259.6,336.6L260.6,336.1L261.5,335.6L262.4,335.0L263.3,334.3L264.1,333.5L264.8,332.7L265.5,331.8L266.1,330.9L266.6,329.9L267.1,328.9L267.5,327.9L267.8,326.8L268.0,325.7L268.1,324.6L268.2,323.5L268.2,323.5Z" fill="#00ffb9"/>
<path d="M239.7,323.5L239.7,323.5L239.8,324.3L239.9,324.9L240.0,325.5L240.2,326.1L240.4,326.7L240.7,327.2L241.1,327.7L241.5,328.2L241.9,328.6L242.4,329.1L242.9,329.4L243.5,329.8L244.1,330.1L244.8,330.4L245.5,330.6L246.2,330.8L246.9,330.9L247.7,331.0L248.6,331.1L249.6,331.1L250.3,331.1L251.1,331.0L251.9,330.9L252.6,330.7L253.3,330.5L254.0,330.3L254.7,330.0L255.3,329.7L255.9,329.3L256.5,328.9L257.0,328.5L257.5,328.0L257.9,327.5L258.3,327.0L258.6,326.4L258.9,325.9L259.1,325.3L259.3,324.7L259.4,324.1L259.4,323.5L259.4,323.5Z" fill="#00ffe8"/>
<path d="M233.3,327.8L234.2,327.7L235.1,327.4L236.4,326.2L236.9,324.7L236.7,324.3L236.8,322.7L237.2,322.0L237.0,320.7L236.4,319.6L235.1,318.6L233.9,318.3L232.4,318.6L231.2,319.6L230.3,321.2L230.0,322.7L230.2,324.7L230.9,326.2L232.1,327.3Z" fill="#7dfa00"/>
<path d="M234.2,327.0L235.5,326.7L236.4,325.8L236.8,324.7L236.8,322.7L237.1,322.0L237.0,321.2L236.4,320.1L235.5,319.4L234.5,319.2L233.3,319.4L232.1,320.4L231.4,321.6L231.2,323.1L231.4,324.7L232.0,325.8L233.0,326.7Z" fill="#d7fa00"/>
<path d="M234.5,326.4L235.8,326.1L236.7,325.0L236.8,322.7L237.0,322.0L236.4,320.5L235.8,320.1L234.8,319.8L233.9,320.0L232.9,320.8L232.3,322.0L232.2,323.1L232.3,324.3L232.9,325.4L233.6,326.1Z" fill="#ffeb00"/>
<path d="M235.1,325.4L236.1,325.2L236.7,324.6L236.7,322.7L236.9,322.3L236.4,321.3L235.8,321.0L235.1,321.0L234.5,321.4L234.0,322.0L233.8,322.7L233.9,324.3L234.5,325.0Z" fill="#ffbe00"/>
<path d="M235.8,324.9L236.4,324.7L236.7,324.3L236.8,322.3L236.4,321.7L235.8,321.6L234.9,322.0L234.5,323.1L234.7,324.3L235.1,324.7Z" fill="#ff8c00"/>
<path d="M235.8,324.4L236.4,324.4L236.7,324.1L236.7,322.4L236.1,322.0L235.4,322.3L235.1,323.1L235.2,323.9Z" fill="#ff5a00"/>
<path d="M236.4,324.1L236.7,323.9L236.7,323.5L236.7,322.7L236.4,322.5L235.8,322.7L235.6,323.5L235.8,323.9Z" fill="#ff2300"/>
<polygon points="298.0,323.5 298.0,323.5 297.9,323.4 297.6,323.4 297.3,323.3 296.9,323.2 296.5,323.1 295.9,323.0 295.3,322.9 294.6,322.9 293.9,322.8 293.0,322.9 292.2,323.0 291.2,323.1 290.2,323.3 289.1,323.5 287.9,323.6 286.7,323.8 285.4,324.0 284.1,324.2 282.7,324.4 281.3,324.6 279.9,324.8 278.4,325.0 276.9,325.2 275.3,325.4 273.8,325.6 272.2,325.8 270.6,326.0 269.0,326.2 267.4,326.3 265.8,326.5 264.2,326.6 262.6,326.8 261.1,326.9 259.5,327.0 258.0,327.1 256.5,327.2 255.0,327.3 253.5,327.3 252.1,327.3 250.8,327.3 249.4,327.3 248.2,327.3 247.0,327.2 245.8,327.1 244.7,327.0 243.6,326.9 242.7,326.7 241.7,326.6 240.9,326.4 240.1,326.2 239.4,325.9 238.8,325.7 238.3,325.4 237.8,325.1 237.4,324.8 237.1,324.5 236.9,324.2 236.7,323.9 236.7,323.5 236.7,323.1 236.8,322.8 237.0,322.4 237.3,322.1 237.7,321.8 238.1,321.4 238.6,321.1 239.2,320.8 239.9,320.5 240.7,320.2 241.5,319.9 242.4,319.6 243.4,319.4 244.4,319.2 245.5,319.0 246.7,318.8 247.9,318.6 249.2,318.4 250.5,318.3 251.9,318.2 253.3,318.1 254.8,318.0 256.3,318.0 257.8,318.0 259.3,318.0 260.9,318.0 262.5,318.0 264.1,318.0 265.7,318.1 267.3,318.2 268.9,318.3 270.5,318.4 272.1,318.5 273.7,318.7 275.3,318.8 276.8,318.9 278.3,319.1 279.8,319.3 281.3,319.4 282.7,319.6 284.1,319.8 285.4,319.9 286.7,320.1 287.9,320.3 289.1,320.5 290.2,320.6 291.2,320.8 292.2,321.0 293.1,321.2 294.0,321.4 294.8,321.7 295.5,322.0 296.1,322.3 296.6,322.6 297.0,322.8 297.4,323.1 297.7,323.3 297.9,323.4 298.0,323.5 298.0,323.5" fill="#555" stroke="#555" stroke-width="0.4"/>
</g>
<rect x="206.0" y="285.0" width="153.4" height="77.0" fill="none" stroke="#000" stroke-opacity="0.5" stroke-width="0.6"/>
<path d="M206.0,362.0v-1.6M212.1,362.0v-0.8M218.3,362.0v-0.8M224.4,362.0v-0.8M230.5,362.0v-0.8M236.7,362.0v-1.6M242.8,362.0v-0.8M249.0,362.0v-0.8M255.1,362.0v-0.8M261.2,362.0v-0.8M267.4,362.0v-1.6M273.5,362.0v-0.8M279.6,362.0v-0.8M285.8,362.0v-0.8M291.9,362.0v-0.8M298.0,362.0v-1.6M304.2,362.0v-0.8M310.3,362.0v-0.8M316.4,362.0v-0.8M322.6,362.0v-0.8M328.7,362.0v-1.6M334.9,362.0v-0.8M341.0,362.0v-0.8M347.1,362.0v-0.8M353.3,362.0v-0.8M359.4,362.0v-1.6M206.0,285.0h1.6M206.0,288.9h0.8M206.0,292.7h0.8M206.0,296.6h0.8M206.0,300.4h0.8M206.0,304.2h1.6M206.0,308.1h0.8M206.0,311.9h0.8M206.0,315.8h0.8M206.0,319.6h0.8M206.0,323.5h1.6M206.0,327.4h0.8M206.0,331.2h0.8M206.0,335.1h0.8M206.0,338.9h0.8M206.0,342.8h1.6M206.0,346.6h0.8M206.0,350.4h0.8M206.0,354.3h0.8M206.0,358.1h0.8M206.0,362.0h1.6" stroke="#000" stroke-opacity="0.45" stroke-width="0.5" fill="none"/>
<g font-family="'Liberation Sans',sans-serif" font-size="4.7px" fill="#000" stroke="#000" stroke-width="0.12">
<text x="201.7" y="287.0" text-anchor="end">0.5</text>
<text x="201.7" y="306.2" text-anchor="end">0.25</text>
<text x="201.7" y="325.5" text-anchor="end">0</text>
<text x="201.7" y="344.8" text-anchor="end">-0.25</text>
<text x="201.7" y="364.0" text-anchor="end">-0.5</text>
<text x="206.3" y="366.6" text-anchor="middle">-0.5</text>
<text x="237.0" y="366.6" text-anchor="middle">0</text>
<text x="267.7" y="366.6" text-anchor="middle">0.5</text>
<text x="298.3" y="366.6" text-anchor="middle">1</text>
<text x="329.0" y="366.6" text-anchor="middle">1.5</text>
<text x="359.7" y="366.6" text-anchor="middle">2</text>
</g>
<g font-family="'Liberation Serif',serif" font-style="italic" font-weight="bold" font-size="6.5px" fill="#111" text-anchor="middle">
<text x="282.7" y="371.9" font-size="8.6px">x</text>
<text transform="translate(189.0,323.7) rotate(-90)" x="0" y="1.5" font-size="7px">y</text>
</g>
<g clip-path="url(#c22)" filter="url(#bl)">
<rect x="383.0" y="281.0" width="163.0" height="85.0" fill="#00fa00"/>
<ellipse cx="417.3" cy="323.5" rx="0.7" ry="1.7" fill="#ffeb00"/>
<polygon points="480.0,323.5 480.0,323.5 479.8,323.4 479.6,323.4 479.3,323.3 478.9,323.2 478.4,323.1 477.9,323.0 477.2,322.9 476.5,322.9 475.8,322.8 474.9,322.9 474.1,323.0 473.1,323.1 472.0,323.3 470.9,323.5 469.7,323.6 468.5,323.8 467.2,324.0 465.9,324.2 464.5,324.4 463.1,324.6 461.6,324.8 460.1,325.0 458.6,325.2 457.1,325.4 455.5,325.6 453.9,325.8 452.3,326.0 450.7,326.2 449.1,326.3 447.4,326.5 445.8,326.6 444.2,326.8 442.6,326.9 441.1,327.0 439.5,327.1 438.0,327.2 436.5,327.3 435.0,327.3 433.6,327.3 432.2,327.3 430.9,327.3 429.6,327.3 428.4,327.2 427.2,327.1 426.1,327.0 425.0,326.9 424.0,326.7 423.1,326.6 422.3,326.4 421.5,326.2 420.8,325.9 420.1,325.7 419.6,325.4 419.1,325.1 418.7,324.8 418.4,324.5 418.2,324.2 418.1,323.9 418.0,323.5 418.0,323.1 418.1,322.8 418.3,322.4 418.6,322.1 419.0,321.8 419.4,321.4 420.0,321.1 420.6,320.8 421.3,320.5 422.1,320.2 422.9,319.9 423.8,319.6 424.8,319.4 425.8,319.2 427.0,319.0 428.1,318.8 429.4,318.6 430.7,318.4 432.0,318.3 433.4,318.2 434.8,318.1 436.3,318.0 437.8,318.0 439.3,318.0 440.9,318.0 442.5,318.0 444.1,318.0 445.7,318.0 447.3,318.1 448.9,318.2 450.6,318.3 452.2,318.4 453.8,318.5 455.4,318.7 457.0,318.8 458.5,318.9 460.1,319.1 461.6,319.3 463.1,319.4 464.5,319.6 465.9,319.8 467.2,319.9 468.5,320.1 469.7,320.3 470.9,320.5 472.0,320.6 473.1,320.8 474.1,321.0 475.1,321.2 475.9,321.4 476.7,321.7 477.4,322.0 478.0,322.3 478.5,322.6 479.0,322.8 479.4,323.1 479.6,323.3 479.8,323.4 480.0,323.5 480.0,323.5" fill="#555" stroke="#555" stroke-width="0.4"/>
</g>
<rect x="387.0" y="285.0" width="155.0" height="77.0" fill="none" stroke="#000" stroke-opacity="0.5" stroke-width="0.6"/>
<path d="M387.0,362.0v-1.6M393.2,362.0v-0.8M399.4,362.0v-0.8M405.6,362.0v-0.8M411.8,362.0v-0.8M418.0,362.0v-1.6M424.2,362.0v-0.8M430.4,362.0v-0.8M436.6,362.0v-0.8M442.8,362.0v-0.8M449.0,362.0v-1.6M455.2,362.0v-0.8M461.4,362.0v-0.8M467.6,362.0v-0.8M473.8,362.0v-0.8M480.0,362.0v-1.6M486.2,362.0v-0.8M492.4,362.0v-0.8M498.6,362.0v-0.8M504.8,362.0v-0.8M511.0,362.0v-1.6M517.2,362.0v-0.8M523.4,362.0v-0.8M529.6,362.0v-0.8M535.8,362.0v-0.8M542.0,362.0v-1.6M387.0,285.0h1.6M387.0,288.9h0.8M387.0,292.7h0.8M387.0,296.6h0.8M387.0,300.4h0.8M387.0,304.2h1.6M387.0,308.1h0.8M387.0,311.9h0.8M387.0,315.8h0.8M387.0,319.6h0.8M387.0,323.5h1.6M387.0,327.4h0.8M387.0,331.2h0.8M387.0,335.1h0.8M387.0,338.9h0.8M387.0,342.8h1.6M387.0,346.6h0.8M387.0,350.4h0.8M387.0,354.3h0.8M387.0,358.1h0.8M387.0,362.0h1.6" stroke="#000" stroke-opacity="0.45" stroke-width="0.5" fill="none"/>
<g font-family="'Liberation Sans',sans-serif" font-size="4.7px" fill="#000" stroke="#000" stroke-width="0.12">
<text x="382.7" y="287.0" text-anchor="end">0.5</text>
<text x="382.7" y="306.2" text-anchor="end">0.25</text>
<text x="382.7" y="325.5" text-anchor="end">0</text>
<text x="382.7" y="344.8" text-anchor="end">-0.25</text>
<text x="382.7" y="364.0" text-anchor="end">-0.5</text>
<text x="387.3" y="366.6" text-anchor="middle">-0.5</text>
<text x="418.3" y="366.6" text-anchor="middle">0</text>
<text x="449.3" y="366.6" text-anchor="middle">0.5</text>
<text x="480.3" y="366.6" text-anchor="middle">1</text>
<text x="511.3" y="366.6" text-anchor="middle">1.5</text>
<text x="542.3" y="366.6" text-anchor="middle">2</text>
</g>
<g font-family="'Liberation Serif',serif" font-style="italic" font-weight="bold" font-size="6.5px" fill="#111" text-anchor="middle">
<text x="464.5" y="371.9" font-size="8.6px">x</text>
<text transform="translate(370.0,323.7) rotate(-90)" x="0" y="1.5" font-size="7px">y</text>
</g>
<g clip-path="url(#c30)" filter="url(#bl)">
<rect x="21.6" y="395.0" width="163.1" height="85.4" fill="#00fa00"/>
<path d="M57.0,476.4L112.4,476.4L116.0,464.4L116.9,460.1L117.4,456.3L117.6,453.2L117.5,450.5L116.2,442.3L116.0,438.9L116.3,438.5L117.4,438.4L117.7,438.0L118.3,438.2L118.7,437.7L118.0,437.5L117.7,437.1L117.4,437.1L116.5,436.2L115.9,436.2L114.9,435.4L114.3,435.4L113.4,434.7L112.8,434.7L112.5,434.3L111.8,434.3L110.9,433.5L110.3,433.5L110.0,433.1L109.4,433.1L109.0,432.7L108.5,432.7L108.8,429.2L109.5,425.3L110.9,421.1L112.9,416.8L113.3,414.1L113.3,411.0L113.0,407.5L112.2,403.6L111.1,399.0L59.9,399.0L59.0,405.6L58.6,411.8L58.8,430.7L57.4,433.1L57.1,434.2L56.8,434.6L56.8,436.2L56.5,436.5L56.5,437.3L56.8,437.7L56.7,439.2L57.0,439.6L57.3,440.8L57.8,441.6L56.3,454.7L55.9,461.7L56.1,469.0Z" fill="#00fb1a"/>
<path d="M62.5,476.4L109.5,476.4L111.5,469.0L112.8,463.2L113.6,458.2L114.0,453.6L112.8,446.2L112.3,440.4L112.1,440.0L111.8,440.3L110.9,440.0L112.1,439.2L113.7,438.5L115.9,438.1L117.4,438.2L117.7,437.8L118.0,437.7L117.1,436.8L116.8,436.7L116.5,436.3L115.9,436.3L114.9,435.5L114.3,435.5L113.4,434.7L112.8,434.7L112.5,434.4L111.8,434.3L110.9,433.6L110.3,433.6L110.0,433.2L109.4,433.1L109.0,432.8L108.4,432.7L108.1,432.4L107.5,432.3L107.2,432.0L106.6,431.9L106.2,431.5L106.2,424.9L107.3,407.9L107.2,399.0L64.6,399.0L62.3,407.5L60.9,414.5L59.9,421.1L59.1,430.3L57.4,433.1L57.4,433.4L56.8,434.6L56.8,436.2L56.5,436.5L56.5,437.3L56.8,437.7L56.8,439.2L57.1,439.6L57.3,440.8L57.9,441.6L57.9,452.0L58.7,460.1L60.1,467.5Z" fill="#00fe50"/>
<path d="M67.4,476.4L104.0,476.4L106.1,466.3L107.3,457.8L107.7,451.6L108.1,441.6L107.3,441.2L109.4,439.2L111.5,438.1L116.8,437.9L117.3,437.7L117.3,437.3L117.1,436.9L116.8,436.9L116.5,436.4L115.9,436.4L114.9,435.6L114.3,435.6L113.4,434.8L112.8,434.8L112.5,434.4L111.8,434.4L110.9,433.7L110.3,433.6L110.0,433.3L109.4,433.2L109.0,432.9L108.4,432.8L108.1,432.5L106.6,432.0L106.3,431.7L105.6,431.6L105.3,431.2L104.6,431.1L104.4,430.8L103.8,430.7L101.7,412.9L100.6,406.4L99.0,399.0L69.0,399.0L65.9,406.3L63.5,412.5L61.9,417.9L60.7,423.2L59.4,430.0L58.1,431.9L58.1,432.3L57.4,433.1L57.4,433.4L56.8,434.6L56.8,436.2L56.5,436.5L56.5,437.3L56.8,437.7L56.8,439.2L58.2,442.3L58.4,446.6L58.9,450.9L60.5,458.2L62.9,465.6Z" fill="#00ff87"/>
<path d="M73.1,476.4L94.1,476.4L97.9,467.4L100.5,459.4L102.3,451.6L103.7,442.3L105.6,440.0L107.9,438.1L111.5,437.8L116.5,437.7L116.5,436.5L115.9,436.5L114.9,435.6L114.3,435.6L113.4,434.9L112.8,434.8L112.5,434.5L111.8,434.5L110.9,433.8L110.3,433.7L110.0,433.4L109.4,433.3L109.0,433.0L102.7,430.3L102.5,430.1L101.6,430.0L101.3,429.6L101.0,429.6L99.1,420.3L97.1,412.9L94.5,405.7L91.3,399.0L74.2,399.0L69.3,406.2L65.3,413.6L63.8,417.0L62.2,421.1L61.0,425.1L59.7,430.0L58.1,431.9L58.1,432.3L57.5,433.1L57.5,433.4L56.8,434.6L56.8,436.2L56.5,436.5L56.5,437.3L56.8,437.7L56.8,439.2L57.1,439.6L57.4,440.8L57.9,441.6L57.9,442.0L58.4,442.7L59.6,449.7L61.6,456.1L63.4,460.4L65.9,465.1L69.0,470.3Z" fill="#00ffb9"/>
<path d="M81.4,472.6L83.9,472.1L86.4,470.7L88.9,468.3L91.4,465.0L94.1,460.1L96.2,455.1L97.9,449.7L99.2,443.9L99.7,443.6L100.2,443.1L101.8,440.8L104.2,438.1L106.9,437.7L109.7,436.7L112.5,436.6L115.6,437.4L115.7,437.3L115.9,436.5L114.9,435.7L114.3,435.7L113.4,434.9L112.8,434.9L112.5,434.6L111.8,434.5L110.9,433.8L108.4,432.9L103.2,430.5L102.5,430.4L102.2,430.1L101.6,430.1L100.0,429.2L99.4,429.2L99.1,428.9L98.3,428.8L96.6,423.0L94.9,418.0L92.9,413.6L90.7,409.7L88.6,406.7L86.1,404.2L83.9,402.9L82.7,402.6L81.4,402.4L79.9,402.6L78.3,403.1L75.2,405.0L71.5,408.5L68.1,412.7L65.6,416.6L63.4,420.7L61.6,425.2L60.0,430.0L59.7,430.0L58.2,431.9L58.1,432.3L57.5,433.1L57.5,433.4L56.8,434.6L56.8,436.2L56.5,436.5L56.5,437.3L56.8,437.7L56.8,439.2L57.1,439.6L57.4,440.8L58.0,441.6L58.0,442.0L58.7,443.1L59.7,447.7L61.3,452.1L63.4,456.6L66.2,460.9L70.3,465.9L74.3,469.6L76.2,470.9L78.0,471.8L79.9,472.4Z" fill="#00ffe8"/>
<path d="M78.6,465.2L81.1,464.9L83.6,463.8L85.8,462.2L88.1,459.8L90.2,456.7L92.1,453.2L93.7,449.3L95.0,445.1L95.7,444.5L96.5,444.3L98.4,440.8L100.4,438.1L102.2,437.7L105.0,436.0L106.6,435.4L108.1,435.0L109.7,434.9L111.5,435.2L113.1,435.7L114.9,436.6L115.1,436.2L114.9,435.8L114.3,435.7L113.3,435.0L112.8,435.0L112.3,434.6L111.5,434.5L110.7,433.8L110.0,433.7L109.8,433.4L109.0,433.3L108.9,433.1L108.1,432.9L107.8,432.6L107.2,432.5L106.9,432.2L106.3,432.1L105.9,431.8L104.4,431.3L104.1,431.0L103.5,430.9L103.2,430.6L102.5,430.5L102.2,430.2L101.3,430.1L100.0,429.3L99.4,429.3L98.8,428.9L98.2,428.9L97.6,428.5L96.9,428.5L96.3,428.1L95.7,428.0L95.4,427.6L93.8,423.4L92.0,419.4L90.1,416.1L88.3,413.5L86.4,411.5L84.2,409.9L82.1,408.9L79.9,408.5L77.1,408.9L74.0,410.4L70.9,412.8L68.1,415.8L65.9,418.7L64.1,421.7L62.2,425.3L60.6,429.2L58.2,431.9L58.2,432.3L57.5,433.1L57.5,433.4L56.9,434.6L56.8,436.2L56.5,436.5L56.5,437.3L56.8,437.7L56.8,439.2L57.1,439.6L57.4,440.8L58.0,441.6L58.0,442.0L59.0,443.5L59.9,446.6L61.0,449.4L62.8,453.0L65.3,456.6L68.7,460.3L72.1,463.0L75.5,464.6L77.1,465.0Z" fill="#00e4ff"/>
<path d="M75.9,460.5L78.3,460.4L80.8,459.6L83.3,458.0L85.5,456.0L87.3,453.6L88.8,451.2L90.2,448.5L91.3,445.8L92.0,445.7L93.0,445.1L94.7,441.2L96.6,438.1L97.8,437.7L100.4,435.4L102.8,433.9L105.3,433.0L107.8,432.8L107.2,432.7L106.9,432.3L106.3,432.3L105.9,431.9L105.3,431.8L105.0,431.5L104.4,431.4L104.1,431.1L103.5,431.0L103.2,430.7L102.5,430.6L102.2,430.3L101.3,430.2L101.0,429.8L100.4,429.8L100.0,429.4L99.1,429.4L98.8,429.0L97.9,428.9L97.6,428.6L96.6,428.5L96.3,428.2L95.7,428.1L95.1,427.7L94.5,427.7L93.8,427.3L93.2,427.3L92.9,426.9L92.6,426.9L91.1,423.6L89.5,420.8L88.0,418.5L86.1,416.4L84.5,415.0L82.7,413.7L80.8,413.0L79.0,412.7L76.2,412.9L73.4,414.0L70.6,415.8L67.8,418.4L65.9,420.6L64.1,423.3L61.1,428.8L60.0,430.1L59.7,430.1L58.3,431.9L58.2,432.3L57.5,433.1L57.5,433.4L56.9,434.6L56.8,436.2L56.5,436.5L56.5,437.3L56.8,437.7L56.8,439.2L57.1,439.6L57.4,440.8L58.0,441.6L58.0,442.0L59.2,443.5L60.3,446.6L61.6,449.2L64.4,453.3L67.2,456.2L70.0,458.4L73.1,459.9Z" fill="#00b6ff"/>
<path d="M73.7,457.1L76.2,457.1L78.3,456.5L80.5,455.4L82.7,453.7L85.5,450.5L87.8,446.6L89.4,445.8L90.9,442.0L92.8,438.1L93.6,437.7L95.7,435.1L97.9,433.1L100.0,431.6L102.2,430.5L102.2,430.3L101.3,430.3L101.0,429.9L100.4,429.9L100.0,429.5L99.1,429.5L98.8,429.1L97.9,429.1L97.6,428.7L96.6,428.6L96.3,428.3L95.4,428.2L95.1,427.9L94.2,427.7L93.8,427.4L93.2,427.4L92.6,427.0L91.7,427.0L91.1,426.5L90.1,426.5L87.1,421.8L84.5,418.9L83.0,417.6L81.4,416.7L79.9,416.1L78.3,415.8L75.9,415.8L73.1,416.6L70.3,418.2L67.8,420.2L64.7,423.7L61.7,428.4L61.3,428.8L61.0,428.9L60.0,430.1L59.7,430.1L58.3,431.9L58.3,432.3L57.6,433.1L57.2,434.2L56.9,434.6L56.9,436.2L56.6,436.5L56.6,437.3L56.9,437.7L56.9,439.2L57.2,439.6L57.5,440.8L58.1,441.6L58.2,442.1L59.1,443.4L59.4,443.5L61.6,448.0L63.8,451.0L66.2,453.5L68.7,455.3L71.2,456.5Z" fill="#0087ff"/>
<path d="M56.9,439.2L57.2,439.6L57.5,440.8L58.1,441.6L58.1,442.0L59.8,443.9L62.2,448.0L64.1,450.2L65.9,451.8L68.4,453.4L70.9,454.4L73.4,454.7L75.9,454.4L78.0,453.5L79.9,452.3L82.4,449.9L84.6,447.0L85.8,446.6L87.1,442.3L88.9,438.1L89.4,437.7L91.4,434.8L93.4,432.3L95.4,430.3L97.3,428.8L96.6,428.8L96.3,428.4L95.4,428.4L95.1,428.0L94.2,427.9L93.8,427.5L92.9,427.5L92.6,427.1L91.7,427.1L91.1,426.7L90.1,426.6L89.5,426.2L88.6,426.2L88.3,425.8L87.1,425.7L85.5,423.4L83.7,421.4L82.1,420.1L80.2,419.0L78.6,418.4L77.1,418.2L75.5,418.1L73.7,418.5L70.6,419.7L67.5,421.9L64.7,424.8L62.3,428.0L61.3,428.9L61.0,428.9L58.3,431.9L58.3,432.3L57.6,433.1L57.6,433.4L56.9,434.6L56.9,436.2L56.6,436.5L56.6,437.3L56.9,437.7Z" fill="#0055ff"/>
<path d="M56.9,439.2L57.2,439.6L57.5,440.8L58.1,441.6L58.1,442.0L60.5,444.7L61.9,446.8L63.8,448.9L65.6,450.4L68.1,451.8L70.6,452.6L73.1,452.7L75.2,452.2L76.8,451.5L78.3,450.5L79.6,449.3L81.4,447.3L82.0,447.0L83.6,441.6L85.2,437.7L88.6,432.2L92.6,427.3L91.4,427.2L91.1,426.8L90.1,426.8L89.5,426.4L88.6,426.3L88.0,425.9L86.7,425.9L86.4,425.5L84.5,425.3L81.7,422.4L80.2,421.4L78.3,420.6L76.8,420.2L75.2,420.1L73.7,420.2L71.8,420.7L69.3,421.9L66.9,423.6L65.0,425.4L63.1,427.6L62.2,428.1L61.9,428.5L61.6,428.6L61.3,429.0L61.0,429.0L58.4,431.9L58.3,432.3L57.7,433.1L57.7,433.4L56.9,434.6L56.9,436.2L56.6,436.5L56.6,437.3L56.9,437.7Z" fill="#0023ff"/>
<path d="M46.7,448.0L49.2,447.9L51.7,447.1L53.8,445.6L55.7,443.6L56.6,442.0L57.2,440.5L56.7,439.2L56.7,437.7L56.4,437.3L56.4,436.5L56.7,436.2L56.7,434.6L57.0,434.2L57.0,433.8L57.7,432.3L57.2,430.8L56.3,429.0L55.1,427.3L53.8,426.1L52.6,425.2L51.0,424.4L49.5,423.9L47.6,423.6L45.5,423.8L43.6,424.4L41.7,425.5L40.1,426.9L38.9,428.4L37.9,430.3L37.1,432.7L36.8,435.0L36.9,437.3L37.3,439.6L38.3,442.0L39.5,443.9L40.9,445.4L42.7,446.7L44.5,447.6Z" fill="#7dfa00"/>
<path d="M48.9,446.1L51.0,445.9L52.9,445.3L54.8,444.0L56.3,442.1L57.1,440.4L57.0,439.6L56.7,439.2L56.7,437.7L56.4,437.3L56.4,436.5L56.7,436.2L56.7,434.6L57.6,432.7L56.6,430.3L54.8,428.0L53.5,427.1L52.3,426.4L49.8,425.9L48.2,426.0L46.5,426.5L45.1,427.3L43.8,428.4L42.6,430.0L41.8,431.5L41.2,433.4L40.9,435.4L41.0,437.3L41.4,439.2L42.1,441.2L43.1,442.7L44.2,444.0L45.7,445.1L47.3,445.8Z" fill="#d7fa00"/>
<path d="M50.7,444.4L52.6,444.2L54.1,443.6L55.4,442.6L56.6,441.0L56.9,440.4L57.0,439.6L56.7,439.2L56.7,437.7L56.4,437.3L56.4,436.5L56.7,436.2L56.7,434.6L57.3,433.4L57.4,432.7L56.3,430.6L55.1,429.3L53.2,428.2L51.3,427.8L50.1,427.9L48.9,428.3L47.6,429.0L46.5,430.0L45.6,431.1L44.8,432.7L44.4,434.2L44.2,435.8L44.3,437.3L44.6,438.9L45.2,440.4L45.9,441.6L46.9,442.7L48.0,443.5L49.2,444.1Z" fill="#ffeb00"/>
<path d="M52.6,442.5L53.8,442.3L55.1,441.8L56.0,441.1L56.9,439.8L56.6,439.2L56.7,437.7L56.4,437.3L56.4,436.5L56.7,436.2L56.7,434.6L57.2,433.4L56.6,432.2L55.7,431.2L54.4,430.4L52.9,430.1L51.0,430.5L50.0,431.1L49.2,431.9L48.2,433.8L47.7,436.2L48.1,438.5L49.0,440.4L49.8,441.3L50.7,441.9Z" fill="#ffbe00"/>
<path d="M53.2,441.4L54.1,441.4L55.1,441.1L56.0,440.5L56.7,439.6L56.7,437.7L56.4,437.3L56.4,436.5L56.7,436.2L56.7,434.6L57.0,434.2L57.0,433.4L55.7,431.9L54.8,431.5L53.8,431.3L52.3,431.6L50.9,432.7L49.9,434.2L49.6,436.2L49.8,438.1L50.5,439.6L51.7,440.8Z" fill="#ff8c00"/>
<path d="M54.1,440.3L55.4,440.2L56.6,439.2L56.7,437.7L56.4,437.3L56.4,436.5L56.7,436.2L56.6,434.6L56.9,434.0L56.0,433.1L54.8,432.6L53.5,432.8L52.6,433.5L51.8,434.6L51.4,436.2L51.6,437.7L52.1,438.9L52.9,439.8Z" fill="#ff5a00"/>
<path d="M55.1,439.1L56.0,439.0L56.6,438.5L56.6,437.7L56.3,437.3L56.3,436.5L56.6,436.2L56.6,434.5L56.0,434.1L55.4,434.0L54.4,434.2L53.9,434.6L53.4,435.4L53.2,436.5L53.4,437.7L53.8,438.4L54.4,438.9Z" fill="#ff2300"/>
<path d="M56.0,437.5L56.3,437.4L56.3,436.5L56.6,436.2L56.0,435.9L55.5,436.2L55.4,436.5L55.6,437.3Z" fill="#ff0000"/>
<polygon points="118.7,437.7 118.6,437.7 118.5,437.8 118.3,437.8 118.0,437.9 117.6,438.1 117.1,438.3 116.6,438.4 115.9,438.7 115.2,438.9 114.4,439.2 113.6,439.5 112.6,439.8 111.6,440.1 110.6,440.4 109.4,440.8 108.2,441.2 107.0,441.5 105.7,441.9 104.4,442.3 103.0,442.7 101.5,443.1 100.1,443.5 98.6,443.9 97.0,444.3 95.5,444.7 93.9,445.1 92.3,445.4 90.8,445.8 89.2,446.1 87.5,446.4 85.9,446.7 84.4,447.0 82.8,447.2 81.2,447.4 79.7,447.6 78.2,447.7 76.7,447.8 75.3,447.9 73.9,447.9 72.5,447.9 71.1,447.8 69.8,447.7 68.6,447.5 67.4,447.3 66.2,447.0 65.1,446.7 64.1,446.3 63.1,445.9 62.2,445.5 61.3,445.0 60.5,444.4 59.8,443.8 59.1,443.2 58.5,442.5 58.0,441.8 57.6,441.0 57.2,440.3 56.9,439.4 56.7,438.6 56.6,437.7 56.6,436.8 56.7,435.9 56.8,435.1 57.0,434.2 57.4,433.4 57.8,432.5 58.3,431.7 58.8,430.9 59.5,430.2 60.3,429.5 61.1,428.8 62.0,428.2 63.0,427.6 64.1,427.0 65.2,426.5 66.4,426.1 67.6,425.7 69.0,425.4 70.4,425.1 71.8,424.9 73.3,424.7 74.8,424.6 76.3,424.6 77.9,424.7 79.5,424.8 81.2,424.9 82.8,425.1 84.4,425.4 86.1,425.6 87.7,426.0 89.4,426.3 91.0,426.7 92.6,427.1 94.2,427.6 95.8,428.1 97.4,428.6 98.9,429.1 100.4,429.6 101.9,430.1 103.3,430.6 104.7,431.2 106.1,431.7 107.3,432.2 108.6,432.8 109.7,433.3 110.8,433.8 111.9,434.3 112.8,434.7 113.8,435.2 114.6,435.6 115.4,436.0 116.0,436.3 116.6,436.6 117.2,436.9 117.6,437.1 118.0,437.3 118.3,437.5 118.5,437.6 118.6,437.7 118.7,437.7" fill="#555" stroke="#555" stroke-width="0.4"/>
</g>
<rect x="25.6" y="399.0" width="155.1" height="77.4" fill="none" stroke="#000" stroke-opacity="0.5" stroke-width="0.6"/>
<path d="M25.6,476.4v-1.6M31.8,476.4v-0.8M38.0,476.4v-0.8M44.2,476.4v-0.8M50.4,476.4v-0.8M56.6,476.4v-1.6M62.8,476.4v-0.8M69.0,476.4v-0.8M75.2,476.4v-0.8M81.4,476.4v-0.8M87.6,476.4v-1.6M93.8,476.4v-0.8M100.0,476.4v-0.8M106.3,476.4v-0.8M112.5,476.4v-0.8M118.7,476.4v-1.6M124.9,476.4v-0.8M131.1,476.4v-0.8M137.3,476.4v-0.8M143.5,476.4v-0.8M149.7,476.4v-1.6M155.9,476.4v-0.8M162.1,476.4v-0.8M168.3,476.4v-0.8M174.5,476.4v-0.8M180.7,476.4v-1.6M25.6,399.0h1.6M25.6,402.9h0.8M25.6,406.7h0.8M25.6,410.6h0.8M25.6,414.5h0.8M25.6,418.4h1.6M25.6,422.2h0.8M25.6,426.1h0.8M25.6,430.0h0.8M25.6,433.8h0.8M25.6,437.7h1.6M25.6,441.6h0.8M25.6,445.4h0.8M25.6,449.3h0.8M25.6,453.2h0.8M25.6,457.0h1.6M25.6,460.9h0.8M25.6,464.8h0.8M25.6,468.7h0.8M25.6,472.5h0.8M25.6,476.4h1.6" stroke="#000" stroke-opacity="0.45" stroke-width="0.5" fill="none"/>
<g font-family="'Liberation Sans',sans-serif" font-size="4.7px" fill="#000" stroke="#000" stroke-width="0.12">
<text x="21.3" y="401.0" text-anchor="end">0.5</text>
<text x="21.3" y="420.4" text-anchor="end">0.25</text>
<text x="21.3" y="439.7" text-anchor="end">0</text>
<text x="21.3" y="459.0" text-anchor="end">-0.25</text>
<text x="21.3" y="478.4" text-anchor="end">-0.5</text>
<text x="25.9" y="481.0" text-anchor="middle">-0.5</text>
<text x="56.9" y="481.0" text-anchor="middle">0</text>
<text x="87.9" y="481.0" text-anchor="middle">0.5</text>
<text x="119.0" y="481.0" text-anchor="middle">1</text>
<text x="150.0" y="481.0" text-anchor="middle">1.5</text>
<text x="181.0" y="481.0" text-anchor="middle">2</text>
</g>
<g font-family="'Liberation Serif',serif" font-style="italic" font-weight="bold" font-size="6.5px" fill="#111" text-anchor="middle">
<text x="103.2" y="486.3" font-size="8.6px">x</text>
<text transform="translate(8.6,437.9) rotate(-90)" x="0" y="1.5" font-size="7px">y</text>
</g>
<g clip-path="url(#c31)" filter="url(#bl)">
<rect x="201.6" y="395.2" width="162.4" height="85.2" fill="#00fa00"/>
<path d="M232.6,476.4L296.6,476.4L298.0,465.6L298.2,461.3L298.2,457.1L297.7,451.7L295.8,443.2L295.2,439.0L295.8,438.6L297.0,438.5L297.3,438.1L297.9,438.3L298.3,437.8L297.6,437.6L297.3,437.2L297.0,437.2L296.7,436.8L296.4,436.7L296.1,436.3L295.5,436.3L294.5,435.5L293.9,435.5L293.0,434.8L292.4,434.8L292.1,434.4L291.4,434.4L290.5,433.6L289.9,433.6L289.6,433.2L289.0,433.2L288.7,432.8L288.0,432.8L288.6,428.5L289.6,424.7L291.4,420.4L293.9,416.3L294.7,413.5L295.2,410.4L295.4,407.3L295.3,403.4L295.0,399.2L235.9,399.2L236.2,408.9L238.2,425.4L238.5,430.9L237.8,432.0L237.8,432.4L237.2,433.2L237.2,433.6L236.6,434.7L236.6,436.3L236.3,436.6L236.3,437.4L236.6,437.8L236.6,439.3L237.6,441.7L236.8,447.2L233.6,464.0L232.9,470.2Z" fill="#00fb1a"/>
<path d="M239.3,476.4L293.1,476.4L294.2,465.6L294.3,456.7L292.1,447.5L291.3,440.5L290.5,440.3L290.2,440.7L289.8,440.5L291.3,439.3L292.9,438.6L294.5,438.2L297.0,438.3L297.3,437.9L297.6,437.8L296.7,436.9L296.4,436.8L296.1,436.4L295.5,436.4L294.5,435.6L293.9,435.6L293.0,434.8L292.4,434.8L292.1,434.5L291.4,434.5L290.5,433.7L289.9,433.7L289.6,433.3L289.0,433.3L288.7,432.9L288.0,432.9L287.7,432.5L287.1,432.4L286.8,432.1L286.2,432.0L285.9,431.6L285.5,431.6L285.6,427.8L286.0,423.5L288.3,406.9L289.1,399.2L241.7,399.2L240.4,406.5L239.6,413.1L239.2,418.9L238.8,430.5L237.2,433.2L237.2,433.6L236.6,434.7L236.6,436.3L236.3,436.6L236.3,437.4L236.6,437.8L236.6,439.3L236.9,439.7L237.2,440.9L237.7,441.7L237.2,453.2L237.3,460.2L238.0,467.9Z" fill="#00fe50"/>
<path d="M245.6,476.4L284.4,476.4L285.7,467.5L286.4,459.0L286.7,442.0L286.1,441.7L288.0,439.6L290.2,438.2L296.1,438.0L296.9,437.8L296.9,437.4L296.7,437.0L296.4,437.0L296.1,436.5L295.5,436.5L294.5,435.7L293.9,435.7L293.0,434.9L292.4,434.9L292.1,434.5L291.4,434.5L290.5,433.8L289.9,433.7L289.6,433.4L289.0,433.3L288.7,433.0L288.0,432.9L287.7,432.6L287.1,432.5L286.8,432.1L286.2,432.1L285.9,431.7L285.3,431.7L285.0,431.3L284.3,431.3L284.0,430.9L283.4,430.9L283.1,430.5L282.8,430.5L281.4,412.3L280.5,405.8L279.1,399.2L247.3,399.2L244.2,406.8L242.3,412.4L240.6,420.0L239.2,430.1L237.2,433.2L237.2,433.6L236.6,434.7L236.7,436.3L236.3,436.6L236.3,437.4L236.7,437.8L236.6,439.3L238.0,442.4L238.5,451.7L239.8,459.4L242.0,467.2Z" fill="#00ff87"/>
<path d="M253.8,476.4L271.3,476.4L273.2,473.4L275.2,469.8L276.9,465.8L278.4,461.7L279.6,457.5L280.5,453.2L281.3,448.2L281.9,443.2L284.3,440.1L286.4,438.2L292.1,437.5L296.1,437.8L296.1,436.6L295.5,436.6L294.5,435.7L293.9,435.7L293.0,435.0L292.4,435.0L292.1,434.6L291.4,434.6L290.5,433.8L289.9,433.8L289.6,433.4L289.0,433.4L288.7,433.0L288.0,433.0L287.7,432.6L287.1,432.6L286.8,432.2L286.2,432.2L285.9,431.8L285.3,431.8L285.0,431.4L284.3,431.4L284.0,431.0L283.4,431.0L283.1,430.6L282.5,430.5L282.2,430.2L281.3,430.1L280.9,429.7L280.3,429.7L279.9,429.3L277.9,418.9L276.9,415.0L275.6,411.2L274.1,407.7L272.3,404.2L270.4,401.4L268.7,399.2L254.9,399.2L252.2,401.9L250.1,404.5L247.9,407.5L244.5,413.6L243.0,417.2L241.7,420.8L240.6,425.1L239.5,430.1L239.3,430.1L237.9,432.0L237.9,432.4L237.3,433.2L237.3,433.6L236.7,434.7L236.7,436.3L236.4,436.6L236.4,437.4L236.7,437.8L236.6,439.3L238.2,442.8L238.8,447.5L239.5,451.3L240.5,454.8L241.9,458.6L244.2,463.5L247.0,468.1L250.4,472.6Z" fill="#00ffb9"/>
<path d="M259.3,469.2L262.1,468.9L264.9,467.7L267.7,465.5L270.1,462.7L272.4,459.0L274.5,454.6L276.1,449.8L277.3,444.4L278.2,444.0L278.5,443.6L280.3,440.6L282.4,438.2L284.7,437.8L286.8,436.7L289.0,436.2L290.5,436.1L292.1,436.3L295.2,437.4L295.5,436.6L294.5,435.8L293.9,435.8L293.0,435.0L292.4,435.0L292.1,434.7L291.4,434.6L290.5,433.9L289.9,433.9L289.6,433.5L289.0,433.5L288.7,433.1L288.0,433.1L287.7,432.7L287.1,432.7L286.8,432.3L285.3,431.9L285.0,431.5L283.4,431.0L283.1,430.7L282.5,430.6L282.2,430.3L281.3,430.2L280.9,429.9L280.3,429.8L280.0,429.5L279.1,429.4L278.8,429.0L277.9,428.9L277.6,428.6L277.0,428.5L275.4,423.1L273.8,418.8L272.0,414.9L269.8,411.5L267.7,408.9L265.2,407.0L262.7,405.8L259.9,405.3L258.4,405.5L256.9,405.8L255.3,406.5L253.5,407.5L250.4,410.0L247.3,413.5L245.1,416.7L243.3,420.2L241.6,424.3L239.9,429.7L239.6,430.1L239.3,430.2L238.0,431.8L237.9,432.4L237.3,433.2L237.3,433.6L236.7,434.7L236.7,436.3L236.4,436.6L236.4,437.4L236.7,437.8L236.7,439.3L237.0,439.7L237.2,440.9L237.8,441.7L237.8,442.0L238.5,443.2L239.4,447.5L240.5,451.1L242.3,455.4L244.8,459.4L248.2,463.5L251.9,466.6L253.8,467.7L255.6,468.5L257.5,469.0Z" fill="#00ffe8"/>
<path d="M256.2,462.8L259.0,462.6L261.8,461.7L264.3,460.1L266.6,457.9L268.6,455.3L270.3,452.5L271.8,449.0L273.0,445.5L273.5,445.4L273.8,444.9L274.6,444.7L276.3,441.3L278.3,438.2L279.8,437.8L282.5,435.8L285.3,434.5L287.7,434.1L289.3,434.2L290.8,434.5L290.9,434.3L290.5,434.3L290.3,433.9L289.6,433.9L289.4,433.6L288.7,433.4L288.5,433.2L288.0,433.1L287.6,432.8L287.1,432.7L286.7,432.4L286.2,432.3L285.8,432.0L285.3,431.9L284.9,431.6L284.3,431.5L284.0,431.2L283.4,431.1L283.1,430.8L282.5,430.7L282.2,430.4L281.3,430.3L280.0,429.6L279.1,429.5L278.5,429.1L277.9,429.1L277.6,428.7L276.6,428.6L276.3,428.3L275.4,428.2L275.1,427.8L274.2,427.8L270.8,420.4L269.2,417.8L267.4,415.4L265.5,413.6L263.3,412.1L261.2,411.2L258.7,410.8L255.9,411.1L252.8,412.3L249.8,414.4L247.0,417.1L245.1,419.6L243.3,422.6L241.9,425.4L240.5,428.9L237.9,432.0L237.9,432.4L237.3,433.2L237.3,433.6L236.7,434.7L236.7,436.3L236.4,436.6L236.4,437.4L236.7,437.8L236.7,439.3L237.0,439.7L237.3,440.9L237.8,441.7L237.8,442.0L238.8,443.6L240.5,448.9L242.0,452.1L244.2,455.4L247.0,458.4L250.1,460.7L253.2,462.2Z" fill="#00e4ff"/>
<path d="M253.8,458.5L256.2,458.5L258.4,458.0L260.9,456.9L263.0,455.3L264.9,453.4L266.4,451.3L267.8,449.0L269.1,446.3L270.1,446.0L270.4,445.6L270.8,445.5L272.3,441.7L274.2,438.2L275.2,437.8L277.3,435.5L279.7,433.6L281.9,432.4L284.2,431.6L283.8,431.2L283.1,431.2L282.9,430.9L282.2,430.7L281.9,430.4L281.3,430.4L279.7,429.6L279.1,429.6L278.5,429.2L277.9,429.2L277.2,428.8L276.6,428.8L276.3,428.4L275.4,428.3L275.1,428.0L274.2,427.9L273.8,427.6L272.9,427.5L272.6,427.1L271.4,427.0L270.9,426.6L269.3,423.5L267.8,421.2L265.1,418.1L263.3,416.7L261.8,415.7L259.9,415.0L258.1,414.6L255.3,414.7L252.5,415.6L249.8,417.1L247.0,419.5L243.9,423.4L240.8,428.9L240.5,429.0L239.7,430.1L239.3,430.3L237.9,432.0L237.9,432.4L237.3,433.2L237.3,433.6L236.7,434.7L236.7,436.3L236.4,436.6L236.4,437.4L236.7,437.8L236.7,439.3L237.0,439.7L237.3,440.9L237.9,441.7L237.9,442.0L239.1,443.6L240.2,446.7L241.4,449.2L243.6,452.4L245.7,454.7L248.2,456.6L251.0,457.9Z" fill="#00b6ff"/>
<path d="M251.6,455.5L254.4,455.5L256.9,455.0L259.3,453.7L261.8,451.7L263.9,449.4L265.4,447.1L266.1,446.9L266.4,446.4L267.0,446.3L268.3,442.0L270.0,438.2L270.6,437.8L272.6,435.1L274.7,432.8L276.6,431.0L278.6,429.7L278.5,429.3L277.6,429.2L277.3,428.9L276.6,428.9L276.2,428.5L275.4,428.5L274.8,428.0L274.2,428.0L273.8,427.7L272.9,427.6L272.6,427.3L271.4,427.2L271.1,426.8L269.8,426.7L269.5,426.3L268.3,426.2L267.8,425.8L265.2,422.2L263.0,420.1L260.3,418.4L257.5,417.6L255.0,417.5L252.2,418.1L249.4,419.4L247.0,421.3L244.2,424.3L241.4,428.5L240.5,429.1L238.0,432.0L238.0,432.4L237.3,433.2L237.3,433.6L236.7,434.7L236.7,436.3L236.4,436.6L236.4,437.4L236.7,437.8L236.7,439.3L237.0,439.7L237.3,440.9L237.9,441.7L238.0,442.2L239.0,443.5L239.2,443.6L240.8,446.9L243.0,450.1L244.8,452.1L247.0,453.7L249.4,454.9Z" fill="#0087ff"/>
<path d="M236.7,439.3L237.0,439.7L237.3,440.9L237.9,441.7L237.9,442.0L239.9,444.4L241.7,447.4L243.3,449.3L245.1,450.9L247.6,452.4L250.1,453.1L252.5,453.3L255.0,452.8L256.6,452.2L258.1,451.2L259.8,449.8L261.9,447.5L262.9,447.1L264.2,442.4L265.8,438.2L269.2,433.0L271.4,430.3L273.5,428.0L273.6,427.8L272.6,427.6L272.3,427.3L271.4,427.3L270.8,426.9L269.8,426.9L269.5,426.5L268.3,426.4L268.0,426.0L266.4,425.9L266.1,425.5L265.0,425.4L263.3,423.5L261.8,422.1L260.3,421.1L258.4,420.3L256.9,419.9L255.0,419.7L253.2,419.9L251.6,420.2L248.8,421.5L246.4,423.3L244.2,425.5L242.5,427.8L240.5,429.2L238.0,432.0L238.0,432.4L237.4,433.2L237.4,433.6L236.7,434.7L236.7,436.3L236.4,436.6L236.4,437.4L236.7,437.8Z" fill="#0055ff"/>
<path d="M237.3,440.9L237.9,441.7L237.9,442.0L239.0,443.4L239.3,443.4L240.2,444.7L240.4,444.7L242.3,447.4L243.9,448.9L245.7,450.1L247.9,451.1L250.4,451.5L252.5,451.4L254.7,450.7L256.9,449.4L258.9,447.5L259.8,443.6L261.6,438.2L261.6,437.8L264.6,432.4L268.8,426.6L268.3,426.6L267.7,426.2L266.4,426.1L266.1,425.7L264.0,425.6L263.7,425.2L262.1,425.1L261.2,424.1L259.6,423.1L258.1,422.3L256.2,421.7L254.7,421.5L252.8,421.6L251.3,421.9L249.4,422.6L246.7,424.2L243.3,427.4L240.5,429.3L238.0,432.0L238.0,432.4L237.4,433.2L237.4,433.6L236.8,434.7L236.7,436.3L236.4,436.6L236.4,437.4L236.7,437.8L236.7,439.3L237.0,439.7Z" fill="#0023ff"/>
<path d="M229.4,445.4L231.5,445.2L233.7,444.4L235.6,442.7L236.9,440.5L236.8,439.7L236.5,439.3L236.6,437.8L236.3,437.4L236.3,436.6L236.6,436.3L236.6,434.7L237.4,432.8L236.9,431.6L235.9,429.9L234.3,428.3L232.5,427.3L230.6,426.9L229.1,427.0L227.6,427.4L226.3,428.1L225.1,429.1L224.0,430.5L223.2,432.0L222.7,433.6L222.4,435.5L222.4,437.4L222.7,439.0L223.3,440.5L224.1,442.0L225.1,443.2L226.5,444.4L227.8,445.0Z" fill="#7dfa00"/>
<path d="M230.9,444.1L232.5,444.0L234.0,443.4L235.2,442.5L236.8,440.4L236.8,439.7L236.5,439.3L236.6,437.8L236.3,437.4L236.3,436.6L236.6,436.3L236.5,434.7L237.1,433.6L237.2,432.8L236.2,431.0L234.9,429.7L233.4,428.8L231.5,428.4L230.3,428.5L229.1,428.9L227.8,429.6L226.9,430.5L225.5,432.8L225.0,434.3L224.8,435.9L224.9,437.4L225.2,439.0L225.8,440.5L226.6,441.7L228.5,443.3L229.7,443.9Z" fill="#d7fa00"/>
<path d="M232.2,442.9L233.7,442.7L234.9,442.1L235.9,441.3L236.8,440.0L236.5,439.3L236.6,437.8L236.2,437.4L236.2,436.6L236.5,436.3L236.5,434.7L237.1,433.6L236.8,432.5L235.6,431.0L234.0,430.1L232.5,429.8L231.2,430.0L230.3,430.3L228.7,431.6L227.9,432.8L227.4,433.9L227.0,436.3L227.3,438.6L227.8,439.7L228.5,440.9L229.4,441.8L230.3,442.4Z" fill="#ffeb00"/>
<path d="M233.4,441.4L234.3,441.3L235.2,441.0L236.6,439.7L236.5,437.8L236.2,437.4L236.2,436.6L236.5,436.3L236.5,434.7L236.8,434.3L236.9,433.6L235.6,432.1L234.6,431.7L233.7,431.5L232.2,431.9L230.9,432.8L230.0,434.3L229.6,436.3L229.9,438.2L230.6,439.7L231.8,440.9Z" fill="#ffbe00"/>
<path d="M234.0,440.6L235.2,440.4L236.5,439.4L236.5,437.8L236.2,437.4L236.2,436.6L236.5,436.3L236.5,434.7L236.8,434.3L236.8,434.0L235.9,433.1L234.3,432.5L233.1,432.8L232.1,433.6L231.4,434.7L231.0,436.3L231.2,437.8L231.8,439.2L232.8,440.1Z" fill="#ff8c00"/>
<path d="M234.6,439.6L235.6,439.5L236.5,438.8L236.5,437.8L236.2,437.4L236.2,436.6L236.5,436.3L236.5,434.4L235.2,433.7L234.3,433.8L233.5,434.3L232.9,435.1L232.6,436.3L232.6,437.4L233.1,438.6L233.7,439.2Z" fill="#ff5a00"/>
<path d="M235.2,438.4L235.9,438.4L236.5,438.1L236.5,437.8L236.2,437.4L236.2,436.6L236.5,436.3L236.5,435.4L235.9,435.0L234.9,435.2L234.2,436.3L234.3,437.5L234.8,438.2Z" fill="#ff2300"/>
<polygon points="298.2,437.8 298.2,437.8 298.1,437.9 297.9,437.9 297.5,438.0 297.2,438.2 296.7,438.4 296.1,438.5 295.5,438.8 294.8,439.0 294.0,439.3 293.2,439.6 292.2,439.9 291.2,440.2 290.2,440.5 289.0,440.9 287.9,441.3 286.6,441.6 285.3,442.0 284.0,442.4 282.6,442.8 281.2,443.2 279.7,443.6 278.2,444.0 276.7,444.4 275.2,444.8 273.6,445.1 272.0,445.5 270.5,445.9 268.9,446.2 267.3,446.5 265.7,446.8 264.1,447.0 262.5,447.3 260.9,447.5 259.4,447.6 257.9,447.8 256.5,447.9 255.0,447.9 253.6,448.0 252.3,447.9 250.9,447.9 249.6,447.7 248.4,447.6 247.2,447.4 246.0,447.1 244.9,446.8 243.9,446.4 242.9,446.0 242.0,445.6 241.1,445.0 240.3,444.5 239.6,443.9 239.0,443.3 238.4,442.6 237.9,441.9 237.4,441.1 237.1,440.3 236.8,439.5 236.6,438.7 236.5,437.8 236.5,436.9 236.5,436.0 236.7,435.2 236.9,434.3 237.2,433.5 237.6,432.6 238.1,431.8 238.7,431.1 239.4,430.3 240.1,429.6 240.9,428.9 241.8,428.3 242.8,427.7 243.9,427.1 245.0,426.7 246.2,426.2 247.5,425.8 248.8,425.5 250.2,425.2 251.6,425.0 253.0,424.9 254.6,424.8 256.1,424.8 257.7,424.8 259.3,424.9 260.9,425.0 262.6,425.2 264.2,425.5 265.8,425.8 267.5,426.1 269.1,426.5 270.7,426.9 272.3,427.3 273.9,427.7 275.5,428.2 277.1,428.7 278.6,429.2 280.1,429.7 281.6,430.2 283.0,430.8 284.4,431.3 285.7,431.8 287.0,432.4 288.2,432.9 289.3,433.4 290.4,433.9 291.5,434.4 292.5,434.8 293.4,435.3 294.2,435.7 294.9,436.1 295.6,436.4 296.2,436.7 296.8,437.0 297.2,437.2 297.6,437.4 297.9,437.6 298.1,437.7 298.2,437.8 298.2,437.8" fill="#555" stroke="#555" stroke-width="0.4"/>
</g>
<rect x="205.6" y="399.2" width="154.4" height="77.2" fill="none" stroke="#000" stroke-opacity="0.5" stroke-width="0.6"/>
<path d="M205.6,476.4v-1.6M211.8,476.4v-0.8M218.0,476.4v-0.8M224.1,476.4v-0.8M230.3,476.4v-0.8M236.5,476.4v-1.6M242.7,476.4v-0.8M248.8,476.4v-0.8M255.0,476.4v-0.8M261.2,476.4v-0.8M267.4,476.4v-1.6M273.5,476.4v-0.8M279.7,476.4v-0.8M285.9,476.4v-0.8M292.1,476.4v-0.8M298.2,476.4v-1.6M304.4,476.4v-0.8M310.6,476.4v-0.8M316.8,476.4v-0.8M322.9,476.4v-0.8M329.1,476.4v-1.6M335.3,476.4v-0.8M341.5,476.4v-0.8M347.6,476.4v-0.8M353.8,476.4v-0.8M360.0,476.4v-1.6M205.6,399.2h1.6M205.6,403.1h0.8M205.6,406.9h0.8M205.6,410.8h0.8M205.6,414.6h0.8M205.6,418.5h1.6M205.6,422.4h0.8M205.6,426.2h0.8M205.6,430.1h0.8M205.6,433.9h0.8M205.6,437.8h1.6M205.6,441.7h0.8M205.6,445.5h0.8M205.6,449.4h0.8M205.6,453.2h0.8M205.6,457.1h1.6M205.6,461.0h0.8M205.6,464.8h0.8M205.6,468.7h0.8M205.6,472.5h0.8M205.6,476.4h1.6" stroke="#000" stroke-opacity="0.45" stroke-width="0.5" fill="none"/>
<g font-family="'Liberation Sans',sans-serif" font-size="4.7px" fill="#000" stroke="#000" stroke-width="0.12">
<text x="201.3" y="401.2" text-anchor="end">0.5</text>
<text x="201.3" y="420.5" text-anchor="end">0.25</text>
<text x="201.3" y="439.8" text-anchor="end">0</text>
<text x="201.3" y="459.1" text-anchor="end">-0.25</text>
<text x="201.3" y="478.4" text-anchor="end">-0.5</text>
<text x="205.9" y="481.0" text-anchor="middle">-0.5</text>
<text x="236.8" y="481.0" text-anchor="middle">0</text>
<text x="267.7" y="481.0" text-anchor="middle">0.5</text>
<text x="298.5" y="481.0" text-anchor="middle">1</text>
<text x="329.4" y="481.0" text-anchor="middle">1.5</text>
<text x="360.3" y="481.0" text-anchor="middle">2</text>
</g>
<g font-family="'Liberation Serif',serif" font-style="italic" font-weight="bold" font-size="6.5px" fill="#111" text-anchor="middle">
<text x="282.8" y="486.3" font-size="8.6px">x</text>
<text transform="translate(188.6,438.0) rotate(-90)" x="0" y="1.5" font-size="7px">y</text>
</g>
<g clip-path="url(#c32)" filter="url(#bl)">
<rect x="383.6" y="395.4" width="161.0" height="84.4" fill="#00fa00"/>
<path d="M381.5,391.8L402.9,391.8L403.2,392.5L403.6,393.5L404.1,394.8L404.7,396.2L405.3,397.7L406.0,399.4L406.7,401.2L407.4,403.3L408.3,405.5L409.1,407.8L410.0,410.1L410.9,412.4L411.8,414.7L412.8,417.0L413.8,419.4L414.8,421.7L415.7,424.0L416.4,426.1L416.9,428.2L417.4,430.2L417.7,432.2L418.0,434.0L418.1,435.8L418.2,437.6L418.2,439.2L418.1,440.7L417.9,442.0L417.6,443.5L417.3,445.0L417.0,446.8L416.6,448.8L416.1,451.0L415.6,453.3L415.0,455.7L414.4,458.1L413.9,460.5L413.4,463.1L412.8,465.8L412.3,468.5L411.7,471.2L411.3,473.7L410.9,475.8L410.5,477.6L410.3,479.2L410.1,480.6L409.9,481.7L409.7,482.7L409.6,483.4L381.5,483.4Z" fill="#7dfa00"/>
<path d="M552.8,391.8L522.2,391.8L521.6,392.6L520.8,393.7L519.9,395.1L518.8,396.5L517.5,397.9L516.0,399.2L514.3,400.3L512.3,401.3L510.2,402.2L508.0,403.2L505.8,404.3L503.6,405.4L501.5,406.5L499.3,407.8L497.2,409.0L495.0,410.3L493.1,411.7L491.3,413.1L489.7,414.5L488.2,416.0L486.9,417.6L485.7,419.2L484.6,420.8L483.6,422.3L482.6,423.9L481.8,425.5L481.1,427.2L480.4,428.8L479.9,430.3L479.5,431.6L479.3,432.8L479.3,433.9L479.4,434.8L479.5,435.7L479.5,436.6L479.4,437.6L479.0,438.6L478.5,439.5L477.8,440.5L477.2,441.5L476.7,442.7L476.5,444.0L476.5,445.6L476.6,447.3L476.9,449.2L477.3,451.1L477.7,453.0L478.3,454.9L479.0,456.7L479.8,458.5L480.8,460.3L481.7,462.1L482.7,463.9L483.6,465.6L484.4,467.4L485.2,469.2L486.0,470.9L486.7,472.6L487.5,474.3L488.2,475.8L488.8,477.3L489.5,478.8L490.2,480.3L490.8,481.6L491.3,482.6L491.6,483.4L552.8,483.4Z" fill="#7dfa00"/>
<ellipse cx="401.7" cy="437.6" rx="16.5" ry="19.5" fill="#d7fa00"/>
<ellipse cx="410.9" cy="436.8" rx="7.7" ry="11.8" fill="#ffeb00"/>
<ellipse cx="412.1" cy="436.5" rx="3.4" ry="5.6" fill="#ffbe00"/>
<ellipse cx="492.3" cy="437.6" rx="5.1" ry="5.9" fill="#d7fa00"/>
<ellipse cx="439.0" cy="420.4" rx="6.7" ry="2.7" fill="#00fd46"/>
<polygon points="479.4,437.6 479.4,437.6 479.2,437.7 479.0,437.7 478.7,437.8 478.3,438.0 477.9,438.1 477.3,438.3 476.7,438.6 476.0,438.8 475.2,439.1 474.4,439.3 473.4,439.6 472.5,440.0 471.4,440.3 470.3,440.7 469.1,441.0 467.9,441.4 466.6,441.8 465.3,442.2 463.9,442.5 462.5,442.9 461.1,443.3 459.6,443.7 458.1,444.1 456.6,444.5 455.0,444.9 453.4,445.2 451.9,445.6 450.3,445.9 448.7,446.2 447.1,446.5 445.6,446.8 444.0,447.0 442.4,447.2 440.9,447.3 439.5,447.5 438.0,447.6 436.6,447.6 435.2,447.6 433.8,447.6 432.5,447.6 431.2,447.4 430.0,447.3 428.8,447.1 427.7,446.8 426.6,446.5 425.6,446.1 424.6,445.7 423.7,445.3 422.8,444.8 422.0,444.2 421.3,443.6 420.6,443.0 420.1,442.3 419.6,441.6 419.1,440.9 418.8,440.1 418.5,439.3 418.3,438.5 418.2,437.6 418.2,436.7 418.2,435.8 418.4,435.0 418.6,434.1 418.9,433.3 419.3,432.5 419.8,431.7 420.4,430.9 421.0,430.2 421.8,429.5 422.6,428.8 423.5,428.2 424.5,427.6 425.5,427.1 426.6,426.6 427.8,426.1 429.1,425.7 430.4,425.4 431.7,425.2 433.2,424.9 434.6,424.8 436.1,424.7 437.7,424.7 439.2,424.7 440.8,424.8 442.4,425.0 444.0,425.2 445.6,425.4 447.3,425.7 448.9,426.0 450.5,426.4 452.1,426.8 453.7,427.2 455.3,427.6 456.9,428.1 458.4,428.6 459.9,429.1 461.4,429.6 462.9,430.1 464.3,430.6 465.6,431.2 467.0,431.7 468.2,432.2 469.4,432.7 470.6,433.2 471.7,433.7 472.7,434.2 473.7,434.7 474.6,435.1 475.4,435.5 476.1,435.9 476.8,436.2 477.4,436.5 477.9,436.8 478.4,437.0 478.7,437.2 479.0,437.4 479.2,437.5 479.4,437.6 479.4,437.6" fill="#555" stroke="#555" stroke-width="0.4"/>
</g>
<rect x="387.6" y="399.4" width="153.0" height="76.4" fill="none" stroke="#000" stroke-opacity="0.5" stroke-width="0.6"/>
<path d="M387.6,475.8v-1.6M393.7,475.8v-0.8M399.8,475.8v-0.8M406.0,475.8v-0.8M412.1,475.8v-0.8M418.2,475.8v-1.6M424.3,475.8v-0.8M430.4,475.8v-0.8M436.6,475.8v-0.8M442.7,475.8v-0.8M448.8,475.8v-1.6M454.9,475.8v-0.8M461.0,475.8v-0.8M467.2,475.8v-0.8M473.3,475.8v-0.8M479.4,475.8v-1.6M485.5,475.8v-0.8M491.6,475.8v-0.8M497.8,475.8v-0.8M503.9,475.8v-0.8M510.0,475.8v-1.6M516.1,475.8v-0.8M522.2,475.8v-0.8M528.4,475.8v-0.8M534.5,475.8v-0.8M540.6,475.8v-1.6M387.6,399.4h1.6M387.6,403.2h0.8M387.6,407.0h0.8M387.6,410.9h0.8M387.6,414.7h0.8M387.6,418.5h1.6M387.6,422.3h0.8M387.6,426.1h0.8M387.6,430.0h0.8M387.6,433.8h0.8M387.6,437.6h1.6M387.6,441.4h0.8M387.6,445.2h0.8M387.6,449.1h0.8M387.6,452.9h0.8M387.6,456.7h1.6M387.6,460.5h0.8M387.6,464.3h0.8M387.6,468.2h0.8M387.6,472.0h0.8M387.6,475.8h1.6" stroke="#000" stroke-opacity="0.45" stroke-width="0.5" fill="none"/>
<g font-family="'Liberation Sans',sans-serif" font-size="4.7px" fill="#000" stroke="#000" stroke-width="0.12">
<text x="383.3" y="401.4" text-anchor="end">0.5</text>
<text x="383.3" y="420.5" text-anchor="end">0.25</text>
<text x="383.3" y="439.6" text-anchor="end">0</text>
<text x="383.3" y="458.7" text-anchor="end">-0.25</text>
<text x="383.3" y="477.8" text-anchor="end">-0.5</text>
<text x="387.9" y="480.4" text-anchor="middle">-0.5</text>
<text x="418.5" y="480.4" text-anchor="middle">0</text>
<text x="449.1" y="480.4" text-anchor="middle">0.5</text>
<text x="479.7" y="480.4" text-anchor="middle">1</text>
<text x="510.3" y="480.4" text-anchor="middle">1.5</text>
<text x="540.9" y="480.4" text-anchor="middle">2</text>
</g>
<g font-family="'Liberation Serif',serif" font-style="italic" font-weight="bold" font-size="6.5px" fill="#111" text-anchor="middle">
<text x="464.1" y="485.7" font-size="8.6px">x</text>
<text transform="translate(370.6,437.8) rotate(-90)" x="0" y="1.5" font-size="7px">y</text>
</g>
<g font-family="'Liberation Serif',serif" font-size="10.8px" fill="#111" text-anchor="middle">
<text x="273.6" y="160.5">(<tspan font-weight="bold">a</tspan>) NACA 2412</text>
<text x="273.6" y="275">(<tspan font-weight="bold">b</tspan>) NACA 5412</text>
<text x="273.6" y="388.6">(<tspan font-weight="bold">c</tspan>) NACA 2912</text>
<text x="273.6" y="502.6">(<tspan font-weight="bold">d</tspan>) NACA 2430</text>
</g>
</svg>
</body></html>
